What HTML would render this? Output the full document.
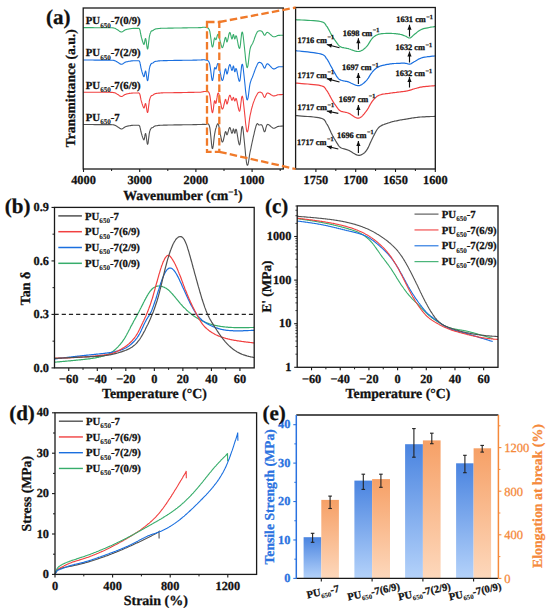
<!DOCTYPE html><html><head><meta charset="utf-8"><style>html,body{margin:0;padding:0;background:#fff;width:550px;height:614px;overflow:hidden}svg{display:block}text{stroke-width:0.28px}</style></head><body>
<svg width="550" height="614" viewBox="0 0 550 614" font-family='"Liberation Serif", serif' text-rendering="geometricPrecision">
<rect width="550" height="614" fill="#fff"/>
<path d="M83.2,27.6 L84.2,27.6 L85.5,27.6 L87.1,27.6 L88.9,27.6 L90.8,27.6 L92.7,27.6 L94.7,27.7 L96.6,27.7 L98.4,27.7 L100.0,27.7 L101.5,27.7 L103.0,27.7 L104.4,27.7 L105.9,27.7 L107.3,27.7 L108.6,27.7 L109.8,27.7 L111.0,27.7 L112.1,27.8 L113.0,27.9 L113.8,28.0 L114.5,28.2 L115.0,28.3 L115.4,28.5 L115.8,28.7 L116.1,28.9 L116.5,29.2 L116.8,29.4 L117.1,29.6 L117.5,29.8 L117.9,30.0 L118.3,30.3 L118.7,30.6 L119.1,30.9 L119.5,31.2 L119.9,31.4 L120.3,31.7 L120.7,31.8 L121.1,32.0 L121.5,32.0 L121.9,32.0 L122.3,31.8 L122.7,31.6 L123.0,31.4 L123.4,31.1 L123.8,30.8 L124.2,30.5 L124.6,30.2 L125.0,30.0 L125.5,29.8 L126.0,29.6 L126.5,29.5 L127.0,29.3 L127.6,29.2 L128.1,29.1 L128.7,29.0 L129.3,28.9 L129.8,28.8 L130.4,28.7 L131.0,28.6 L131.6,28.5 L132.2,28.5 L132.9,28.4 L133.5,28.4 L134.2,28.4 L134.8,28.4 L135.4,28.4 L136.0,28.4 L136.5,28.4 L137.0,28.4 L137.4,28.4 L137.8,28.4 L138.1,28.4 L138.3,28.3 L138.6,28.3 L138.8,28.3 L139.0,28.4 L139.2,28.6 L139.4,28.8 L139.6,29.2 L139.8,29.7 L140.0,30.3 L140.1,31.0 L140.3,31.8 L140.4,32.6 L140.6,33.5 L140.8,34.3 L140.9,35.2 L141.1,36.0 L141.3,36.8 L141.5,37.7 L141.8,38.6 L142.0,39.5 L142.3,40.5 L142.6,41.5 L142.9,42.3 L143.2,43.1 L143.4,43.8 L143.7,44.2 L143.9,44.4 L144.1,44.3 L144.3,43.8 L144.5,43.1 L144.6,42.2 L144.8,41.3 L144.9,40.3 L145.1,39.5 L145.3,38.8 L145.4,38.5 L145.6,38.5 L145.8,39.0 L146.0,39.9 L146.2,41.2 L146.4,42.6 L146.6,44.2 L146.8,45.7 L147.0,47.0 L147.2,48.1 L147.4,48.8 L147.6,49.0 L147.8,48.7 L148.0,47.9 L148.2,46.7 L148.3,45.3 L148.5,43.8 L148.7,42.1 L148.9,40.5 L149.1,39.0 L149.2,37.6 L149.4,36.6 L149.6,35.8 L149.7,35.1 L149.9,34.4 L150.0,33.9 L150.2,33.4 L150.4,33.0 L150.5,32.6 L150.7,32.2 L150.8,31.9 L151.0,31.6 L151.2,31.3 L151.3,31.2 L151.5,31.0 L151.6,30.9 L151.8,30.9 L152.0,30.9 L152.2,30.8 L152.3,30.8 L152.6,30.7 L152.8,30.6 L153.0,30.5 L153.3,30.3 L153.5,30.1 L153.7,29.9 L154.0,29.7 L154.2,29.5 L154.6,29.4 L155.0,29.2 L155.4,29.0 L156.0,28.9 L156.6,28.8 L157.3,28.7 L157.9,28.6 L158.7,28.5 L159.4,28.5 L160.3,28.4 L161.3,28.3 L162.4,28.3 L163.6,28.2 L165.0,28.2 L166.6,28.2 L168.4,28.1 L170.3,28.1 L172.4,28.1 L174.6,28.0 L176.8,28.0 L179.0,28.0 L181.1,28.0 L183.2,27.9 L185.0,27.9 L186.7,27.9 L188.5,27.8 L190.2,27.8 L191.8,27.8 L193.4,27.8 L195.0,27.7 L196.4,27.7 L197.7,27.7 L198.9,27.6 L200.0,27.6 L200.9,27.6 L201.6,27.5 L202.3,27.4 L202.7,27.3 L203.2,27.3 L203.5,27.2 L203.9,27.2 L204.2,27.2 L204.6,27.2 L205.0,27.3 L205.5,27.4 L205.9,27.5 L206.4,27.5 L206.9,27.6 L207.3,27.7 L207.8,27.9 L208.2,28.2 L208.6,28.7 L209.0,29.3 L209.4,30.2 L209.8,31.4 L210.1,33.1 L210.4,35.0 L210.7,37.1 L211.0,39.3 L211.3,41.4 L211.5,43.3 L211.8,45.0 L212.0,46.2 L212.3,46.9 L212.6,47.0 L212.8,46.6 L213.0,45.8 L213.3,44.8 L213.5,43.5 L213.7,42.2 L213.9,40.9 L214.1,39.7 L214.3,38.8 L214.5,38.2 L214.7,38.0 L214.8,37.9 L215.0,38.1 L215.1,38.3 L215.2,38.7 L215.4,39.0 L215.5,39.3 L215.7,39.6 L215.8,39.7 L216.0,39.6 L216.2,39.3 L216.4,38.7 L216.6,38.0 L216.8,37.2 L217.1,36.3 L217.3,35.5 L217.5,34.9 L217.8,34.5 L218.1,34.3 L218.4,34.5 L218.7,35.2 L219.1,36.3 L219.5,37.8 L219.8,39.5 L220.2,41.4 L220.7,43.2 L221.1,44.8 L221.5,46.2 L221.8,47.1 L222.2,47.6 L222.6,47.5 L222.9,46.8 L223.3,45.8 L223.6,44.5 L223.9,43.1 L224.3,41.6 L224.6,40.2 L224.9,39.0 L225.1,38.0 L225.4,37.5 L225.6,37.4 L225.8,37.7 L226.0,38.2 L226.1,38.8 L226.3,39.6 L226.4,40.4 L226.6,41.1 L226.7,41.6 L226.9,41.9 L227.1,41.8 L227.3,41.3 L227.6,40.5 L227.8,39.5 L228.1,38.3 L228.4,37.0 L228.6,35.7 L228.9,34.5 L229.2,33.5 L229.5,32.8 L229.7,32.4 L229.9,32.5 L230.2,32.9 L230.4,33.5 L230.6,34.4 L230.9,35.3 L231.1,36.3 L231.3,37.3 L231.5,38.0 L231.7,38.6 L231.9,38.9 L232.1,38.9 L232.2,38.6 L232.4,38.1 L232.6,37.5 L232.7,36.8 L232.8,36.1 L233.0,35.5 L233.1,35.0 L233.3,34.6 L233.4,34.5 L233.5,34.6 L233.7,34.9 L233.8,35.4 L234.0,36.0 L234.1,36.6 L234.2,37.2 L234.4,37.8 L234.5,38.3 L234.7,38.7 L234.8,38.9 L234.9,38.8 L235.1,38.5 L235.2,38.1 L235.3,37.5 L235.4,37.0 L235.6,36.4 L235.7,36.0 L235.9,35.7 L236.1,35.7 L236.3,36.0 L236.6,36.7 L236.9,38.0 L237.2,39.5 L237.5,41.2 L237.9,43.0 L238.2,44.8 L238.6,46.3 L238.9,47.5 L239.3,48.2 L239.6,48.4 L239.9,47.7 L240.2,46.2 L240.5,44.1 L240.7,41.6 L241.0,39.0 L241.3,36.5 L241.5,34.4 L241.8,32.8 L242.2,32.1 L242.5,32.4 L242.9,34.1 L243.3,37.0 L243.7,40.8 L244.2,45.2 L244.7,50.0 L245.2,54.7 L245.6,59.1 L246.1,62.9 L246.5,65.7 L246.9,67.3 L247.3,67.6 L247.6,66.9 L248.0,65.3 L248.3,63.2 L248.6,60.7 L248.9,58.0 L249.2,55.3 L249.5,52.8 L249.8,50.6 L250.1,49.0 L250.4,47.9 L250.7,47.0 L251.0,46.3 L251.2,45.7 L251.5,45.2 L251.8,44.7 L252.1,44.3 L252.4,43.8 L252.7,43.2 L253.0,42.5 L253.3,41.6 L253.7,40.7 L254.1,39.7 L254.4,38.6 L254.8,37.5 L255.2,36.5 L255.6,35.5 L255.9,34.6 L256.3,33.8 L256.6,33.1 L256.9,32.6 L257.1,32.2 L257.4,31.8 L257.6,31.6 L257.8,31.4 L258.1,31.2 L258.3,31.1 L258.5,31.0 L258.7,31.0 L259.0,30.9 L259.3,30.8 L259.6,30.8 L259.9,30.8 L260.2,30.8 L260.5,30.8 L260.8,30.9 L261.1,31.0 L261.4,31.1 L261.7,31.3 L262.0,31.5 L262.3,31.8 L262.5,32.2 L262.8,32.6 L263.1,33.1 L263.3,33.6 L263.6,34.1 L263.8,34.6 L264.1,34.9 L264.3,35.2 L264.6,35.3 L264.9,35.2 L265.1,35.0 L265.4,34.7 L265.6,34.3 L265.8,33.8 L266.1,33.4 L266.4,33.0 L266.7,32.6 L267.1,32.4 L267.5,32.4 L268.0,32.6 L268.5,32.9 L269.1,33.3 L269.7,33.9 L270.3,34.4 L271.0,35.0 L271.6,35.6 L272.3,36.1 L272.8,36.5 L273.4,36.7 L273.9,36.8 L274.4,36.8 L274.9,36.7 L275.3,36.6 L275.7,36.4 L276.2,36.2 L276.6,36.0 L277.1,35.8 L277.5,35.6 L278.0,35.5 L278.5,35.4 L279.1,35.4 L279.7,35.4 L280.3,35.3 L280.9,35.3 L281.5,35.3 L282.1,35.3 L282.6,35.3 L283.0,35.3 L283.3,35.3" fill="none" stroke="#37AD6B" stroke-width="1.1" stroke-linejoin="round"/>
<path d="M83.2,60.0 L84.2,60.0 L85.5,60.0 L87.1,60.0 L88.9,60.0 L90.8,60.0 L92.7,60.0 L94.7,60.1 L96.6,60.1 L98.4,60.1 L100.0,60.1 L101.5,60.1 L103.0,60.1 L104.4,60.1 L105.9,60.1 L107.3,60.1 L108.6,60.1 L109.8,60.1 L111.0,60.2 L112.1,60.2 L113.0,60.3 L113.8,60.4 L114.5,60.6 L115.0,60.7 L115.4,60.9 L115.8,61.1 L116.1,61.3 L116.5,61.5 L116.8,61.7 L117.1,61.9 L117.5,62.1 L117.9,62.4 L118.3,62.6 L118.7,62.9 L119.1,63.2 L119.5,63.5 L119.9,63.7 L120.3,64.0 L120.7,64.1 L121.1,64.3 L121.5,64.3 L121.9,64.3 L122.3,64.1 L122.7,63.9 L123.0,63.7 L123.4,63.4 L123.8,63.1 L124.2,62.9 L124.6,62.6 L125.0,62.3 L125.5,62.1 L126.0,62.0 L126.5,61.8 L127.0,61.7 L127.6,61.6 L128.1,61.5 L128.7,61.3 L129.3,61.2 L129.8,61.2 L130.4,61.1 L131.0,61.0 L131.6,60.9 L132.2,60.9 L132.9,60.8 L133.5,60.8 L134.2,60.8 L134.8,60.8 L135.4,60.8 L136.0,60.8 L136.5,60.8 L137.0,60.8 L137.4,60.8 L137.8,60.8 L138.1,60.8 L138.3,60.7 L138.6,60.7 L138.8,60.7 L139.0,60.8 L139.2,61.0 L139.4,61.2 L139.6,61.6 L139.8,62.1 L140.0,62.7 L140.1,63.4 L140.3,64.1 L140.4,65.0 L140.6,65.8 L140.8,66.7 L140.9,67.6 L141.1,68.4 L141.3,69.2 L141.5,70.0 L141.8,70.9 L142.0,71.9 L142.3,72.8 L142.6,73.8 L142.9,74.6 L143.2,75.4 L143.4,76.0 L143.7,76.5 L143.9,76.7 L144.1,76.6 L144.3,76.2 L144.5,75.5 L144.6,74.6 L144.8,73.7 L144.9,72.8 L145.1,72.0 L145.3,71.4 L145.4,71.0 L145.6,71.0 L145.8,71.4 L146.0,72.3 L146.2,73.5 L146.4,74.8 L146.6,76.2 L146.8,77.6 L147.0,78.9 L147.2,79.9 L147.4,80.5 L147.6,80.7 L147.8,80.3 L148.0,79.6 L148.2,78.5 L148.3,77.1 L148.5,75.6 L148.7,74.0 L148.9,72.4 L149.1,71.0 L149.2,69.7 L149.4,68.7 L149.6,67.9 L149.7,67.2 L149.9,66.6 L150.0,66.1 L150.2,65.7 L150.4,65.3 L150.5,64.9 L150.7,64.6 L150.8,64.3 L151.0,64.0 L151.2,63.8 L151.3,63.6 L151.5,63.5 L151.6,63.4 L151.8,63.3 L152.0,63.3 L152.2,63.2 L152.3,63.2 L152.6,63.1 L152.8,63.0 L153.0,62.9 L153.3,62.7 L153.5,62.5 L153.7,62.3 L154.0,62.1 L154.2,61.9 L154.6,61.8 L155.0,61.6 L155.4,61.4 L156.0,61.3 L156.6,61.2 L157.3,61.1 L157.9,61.0 L158.7,60.9 L159.4,60.9 L160.3,60.8 L161.3,60.7 L162.4,60.7 L163.6,60.6 L165.0,60.6 L166.6,60.6 L168.4,60.5 L170.3,60.5 L172.4,60.5 L174.6,60.4 L176.8,60.4 L179.0,60.4 L181.1,60.4 L183.2,60.3 L185.0,60.3 L186.7,60.3 L188.5,60.2 L190.2,60.2 L191.8,60.2 L193.4,60.1 L195.0,60.1 L196.4,60.1 L197.7,60.0 L198.9,60.0 L200.0,60.0 L200.9,60.0 L201.6,59.9 L202.3,59.9 L202.7,59.8 L203.2,59.7 L203.5,59.7 L203.9,59.7 L204.2,59.7 L204.6,59.8 L205.0,59.9 L205.5,60.0 L205.9,60.1 L206.4,60.1 L206.9,60.2 L207.3,60.3 L207.8,60.6 L208.2,60.9 L208.6,61.4 L209.0,62.1 L209.4,63.0 L209.8,64.3 L210.1,66.1 L210.4,68.1 L210.7,70.4 L211.0,72.7 L211.3,75.0 L211.5,77.0 L211.8,78.7 L212.0,79.9 L212.3,80.5 L212.6,80.4 L212.8,79.7 L213.0,78.6 L213.3,77.1 L213.5,75.4 L213.7,73.6 L213.9,71.9 L214.1,70.3 L214.3,69.0 L214.5,68.2 L214.7,67.8 L214.8,67.6 L215.0,67.6 L215.1,67.8 L215.2,68.1 L215.4,68.4 L215.5,68.7 L215.7,68.9 L215.8,69.0 L216.0,68.9 L216.2,68.5 L216.4,67.9 L216.6,67.1 L216.8,66.2 L217.1,65.4 L217.3,64.5 L217.5,63.9 L217.8,63.5 L218.1,63.5 L218.4,63.8 L218.7,64.7 L219.1,66.2 L219.5,68.1 L219.8,70.3 L220.2,72.6 L220.7,74.8 L221.1,76.9 L221.5,78.6 L221.8,79.9 L222.2,80.5 L222.6,80.4 L222.9,79.7 L223.3,78.6 L223.6,77.1 L223.9,75.4 L224.3,73.7 L224.6,72.0 L224.9,70.6 L225.1,69.5 L225.4,68.9 L225.6,68.8 L225.8,69.1 L226.0,69.7 L226.1,70.4 L226.3,71.3 L226.4,72.2 L226.6,73.0 L226.7,73.6 L226.9,74.0 L227.1,74.0 L227.3,73.6 L227.6,72.8 L227.8,71.7 L228.1,70.5 L228.4,69.2 L228.6,67.9 L228.9,66.7 L229.2,65.6 L229.5,64.9 L229.7,64.5 L229.9,64.5 L230.2,64.9 L230.4,65.5 L230.6,66.2 L230.9,67.1 L231.1,68.0 L231.3,68.9 L231.5,69.6 L231.7,70.2 L231.9,70.4 L232.1,70.3 L232.2,70.0 L232.4,69.5 L232.6,68.9 L232.7,68.2 L232.8,67.5 L233.0,66.9 L233.1,66.4 L233.3,66.1 L233.4,66.0 L233.5,66.2 L233.7,66.6 L233.8,67.3 L234.0,68.0 L234.1,68.8 L234.2,69.6 L234.4,70.4 L234.5,71.0 L234.7,71.5 L234.8,71.8 L234.9,71.8 L235.1,71.5 L235.2,71.1 L235.3,70.5 L235.4,69.9 L235.6,69.4 L235.7,68.9 L235.9,68.6 L236.1,68.6 L236.3,68.9 L236.6,69.7 L236.9,70.9 L237.2,72.4 L237.5,74.2 L237.9,76.0 L238.2,77.7 L238.6,79.2 L238.9,80.4 L239.3,81.2 L239.6,81.3 L239.9,80.6 L240.2,79.0 L240.5,76.8 L240.7,74.2 L241.0,71.5 L241.3,68.9 L241.5,66.7 L241.8,65.0 L242.2,64.2 L242.5,64.5 L242.9,66.1 L243.3,69.0 L243.7,72.8 L244.2,77.2 L244.7,82.0 L245.2,86.7 L245.6,91.1 L246.1,94.9 L246.5,97.8 L246.9,99.5 L247.3,99.9 L247.6,99.4 L248.0,98.2 L248.3,96.4 L248.6,94.2 L248.9,91.8 L249.2,89.3 L249.5,87.0 L249.8,85.0 L250.1,83.5 L250.4,82.4 L250.7,81.4 L251.0,80.6 L251.2,79.8 L251.5,79.1 L251.8,78.4 L252.1,77.8 L252.4,77.1 L252.7,76.3 L253.0,75.5 L253.3,74.6 L253.7,73.6 L254.1,72.6 L254.4,71.5 L254.8,70.5 L255.2,69.4 L255.6,68.5 L255.9,67.5 L256.3,66.7 L256.6,66.0 L256.9,65.4 L257.1,64.8 L257.4,64.3 L257.6,63.9 L257.8,63.5 L258.1,63.2 L258.3,62.9 L258.5,62.7 L258.7,62.5 L259.0,62.4 L259.3,62.3 L259.6,62.3 L259.9,62.4 L260.2,62.5 L260.5,62.6 L260.8,62.8 L261.1,63.0 L261.4,63.2 L261.7,63.5 L262.0,63.8 L262.3,64.2 L262.5,64.6 L262.8,65.2 L263.1,65.8 L263.3,66.4 L263.6,66.9 L263.8,67.4 L264.1,67.8 L264.3,68.1 L264.6,68.2 L264.9,68.1 L265.1,67.7 L265.4,67.2 L265.6,66.6 L265.8,66.0 L266.1,65.3 L266.4,64.7 L266.7,64.2 L267.1,63.9 L267.5,63.8 L268.0,64.0 L268.5,64.3 L269.1,64.9 L269.7,65.5 L270.3,66.2 L271.0,66.9 L271.6,67.6 L272.3,68.2 L272.8,68.6 L273.4,68.9 L273.9,69.0 L274.4,68.9 L274.9,68.8 L275.3,68.6 L275.7,68.3 L276.2,68.0 L276.6,67.7 L277.1,67.4 L277.5,67.2 L278.0,67.0 L278.5,66.9 L279.1,66.8 L279.7,66.8 L280.3,66.8 L280.9,66.7 L281.5,66.7 L282.1,66.7 L282.6,66.7 L283.0,66.7 L283.3,66.7" fill="none" stroke="#1A6FDF" stroke-width="1.1" stroke-linejoin="round"/>
<path d="M83.2,92.2 L84.2,92.2 L85.5,92.2 L87.1,92.2 L88.9,92.2 L90.8,92.2 L92.7,92.2 L94.7,92.3 L96.6,92.3 L98.4,92.3 L100.0,92.3 L101.5,92.3 L103.0,92.3 L104.4,92.3 L105.9,92.3 L107.3,92.3 L108.6,92.3 L109.8,92.3 L111.0,92.4 L112.1,92.4 L113.0,92.5 L113.8,92.6 L114.5,92.8 L115.0,92.9 L115.4,93.1 L115.8,93.3 L116.1,93.5 L116.5,93.7 L116.8,93.9 L117.1,94.1 L117.5,94.4 L117.9,94.6 L118.3,94.8 L118.7,95.1 L119.1,95.4 L119.5,95.7 L119.9,95.9 L120.3,96.2 L120.7,96.3 L121.1,96.5 L121.5,96.5 L121.9,96.5 L122.3,96.3 L122.7,96.1 L123.0,95.9 L123.4,95.6 L123.8,95.3 L124.2,95.1 L124.6,94.8 L125.0,94.5 L125.5,94.4 L126.0,94.2 L126.5,94.0 L127.0,93.9 L127.6,93.8 L128.1,93.7 L128.7,93.5 L129.3,93.4 L129.8,93.4 L130.4,93.3 L131.0,93.2 L131.6,93.1 L132.2,93.1 L132.9,93.0 L133.5,93.0 L134.2,93.0 L134.8,93.0 L135.4,93.0 L136.0,93.0 L136.5,93.0 L137.0,93.0 L137.4,93.0 L137.8,93.0 L138.1,93.0 L138.3,92.9 L138.6,92.9 L138.8,93.0 L139.0,93.1 L139.2,93.2 L139.4,93.5 L139.6,93.8 L139.8,94.3 L140.0,94.8 L140.1,95.5 L140.3,96.2 L140.4,97.0 L140.6,97.8 L140.8,98.6 L140.9,99.4 L141.1,100.2 L141.3,100.9 L141.5,101.7 L141.8,102.5 L142.0,103.4 L142.3,104.3 L142.6,105.2 L142.9,106.0 L143.2,106.7 L143.4,107.3 L143.7,107.8 L143.9,108.0 L144.1,108.0 L144.3,107.6 L144.5,107.1 L144.6,106.4 L144.8,105.6 L144.9,104.9 L145.1,104.2 L145.3,103.7 L145.4,103.5 L145.6,103.5 L145.8,103.9 L146.0,104.8 L146.2,105.9 L146.4,107.1 L146.6,108.5 L146.8,109.7 L147.0,110.9 L147.2,111.8 L147.4,112.4 L147.6,112.5 L147.8,112.1 L148.0,111.4 L148.2,110.3 L148.3,108.9 L148.5,107.5 L148.7,105.9 L148.9,104.4 L149.1,102.9 L149.2,101.7 L149.4,100.7 L149.6,100.0 L149.7,99.3 L149.9,98.7 L150.0,98.2 L150.2,97.8 L150.4,97.4 L150.5,97.1 L150.7,96.8 L150.8,96.5 L151.0,96.2 L151.2,96.0 L151.3,95.8 L151.5,95.7 L151.6,95.6 L151.8,95.5 L152.0,95.5 L152.2,95.4 L152.3,95.4 L152.6,95.3 L152.8,95.2 L153.0,95.1 L153.3,94.9 L153.5,94.7 L153.7,94.5 L154.0,94.3 L154.2,94.1 L154.6,94.0 L155.0,93.8 L155.4,93.6 L156.0,93.5 L156.6,93.4 L157.3,93.3 L157.9,93.2 L158.7,93.1 L159.4,93.1 L160.3,93.0 L161.3,92.9 L162.4,92.9 L163.6,92.8 L165.0,92.8 L166.6,92.8 L168.4,92.7 L170.3,92.7 L172.4,92.7 L174.6,92.6 L176.8,92.6 L179.0,92.6 L181.1,92.6 L183.2,92.5 L185.0,92.5 L186.7,92.5 L188.5,92.4 L190.2,92.4 L191.8,92.4 L193.4,92.4 L195.0,92.3 L196.4,92.3 L197.7,92.3 L198.9,92.2 L200.0,92.2 L200.9,92.1 L201.6,92.0 L202.3,91.9 L202.7,91.8 L203.2,91.7 L203.5,91.6 L203.9,91.5 L204.2,91.5 L204.6,91.5 L205.0,91.5 L205.5,91.5 L205.9,91.5 L206.4,91.4 L206.9,91.4 L207.3,91.4 L207.8,91.5 L208.2,91.7 L208.6,92.1 L209.0,92.8 L209.4,93.7 L209.8,95.1 L210.1,96.9 L210.4,99.1 L210.7,101.5 L211.0,104.0 L211.3,106.4 L211.5,108.6 L211.8,110.5 L212.0,111.9 L212.3,112.6 L212.6,112.6 L212.8,112.0 L213.0,110.9 L213.3,109.5 L213.5,107.8 L213.7,106.1 L213.9,104.4 L214.1,102.9 L214.3,101.7 L214.5,101.0 L214.7,100.7 L214.8,100.8 L215.0,101.0 L215.1,101.5 L215.2,102.0 L215.4,102.6 L215.5,103.0 L215.7,103.3 L215.8,103.4 L216.0,103.2 L216.2,102.6 L216.4,101.5 L216.6,100.2 L216.8,98.8 L217.1,97.2 L217.3,95.8 L217.5,94.5 L217.8,93.6 L218.1,93.0 L218.4,93.0 L218.7,93.7 L219.1,94.9 L219.5,96.7 L219.8,98.7 L220.2,101.0 L220.7,103.2 L221.1,105.2 L221.5,107.0 L221.8,108.3 L222.2,109.0 L222.6,109.0 L222.9,108.5 L223.3,107.6 L223.6,106.4 L223.9,105.0 L224.3,103.5 L224.6,102.1 L224.9,100.9 L225.1,100.0 L225.4,99.5 L225.6,99.4 L225.8,99.7 L226.0,100.2 L226.1,100.9 L226.3,101.6 L226.4,102.4 L226.6,103.1 L226.7,103.6 L226.9,103.9 L227.1,103.9 L227.3,103.5 L227.6,102.8 L227.8,101.8 L228.1,100.7 L228.4,99.5 L228.6,98.3 L228.9,97.2 L229.2,96.3 L229.5,95.6 L229.7,95.2 L229.9,95.2 L230.2,95.5 L230.4,96.0 L230.6,96.6 L230.9,97.4 L231.1,98.2 L231.3,98.9 L231.5,99.6 L231.7,100.1 L231.9,100.3 L232.1,100.3 L232.2,100.1 L232.4,99.8 L232.6,99.4 L232.7,98.9 L232.8,98.5 L233.0,98.0 L233.1,97.7 L233.3,97.5 L233.4,97.4 L233.5,97.5 L233.7,97.8 L233.8,98.2 L234.0,98.7 L234.1,99.2 L234.2,99.7 L234.4,100.1 L234.5,100.5 L234.7,100.8 L234.8,101.0 L234.9,100.9 L235.1,100.7 L235.2,100.3 L235.3,99.8 L235.4,99.3 L235.6,98.9 L235.7,98.6 L235.9,98.4 L236.1,98.5 L236.3,98.8 L236.6,99.6 L236.9,100.8 L237.2,102.3 L237.5,104.0 L237.9,105.8 L238.2,107.5 L238.6,109.0 L238.9,110.2 L239.3,111.0 L239.6,111.2 L239.9,110.6 L240.2,109.2 L240.5,107.2 L240.7,104.9 L241.0,102.5 L241.3,100.2 L241.5,98.2 L241.8,96.8 L242.2,96.2 L242.5,96.6 L242.9,98.3 L243.3,101.2 L243.7,105.0 L244.2,109.4 L244.7,114.1 L245.2,118.8 L245.6,123.2 L246.1,127.0 L246.5,129.8 L246.9,131.5 L247.3,131.9 L247.6,131.5 L248.0,130.3 L248.3,128.6 L248.6,126.4 L248.9,124.0 L249.2,121.6 L249.5,119.2 L249.8,117.2 L250.1,115.5 L250.4,114.1 L250.7,112.9 L251.0,111.6 L251.2,110.4 L251.5,109.2 L251.8,108.1 L252.1,107.0 L252.4,106.0 L252.7,104.9 L253.0,103.9 L253.3,102.9 L253.7,101.9 L254.1,100.9 L254.4,99.9 L254.8,99.0 L255.2,98.1 L255.6,97.3 L255.9,96.5 L256.3,95.8 L256.6,95.2 L256.9,94.7 L257.1,94.2 L257.4,93.8 L257.6,93.4 L257.8,93.2 L258.1,92.9 L258.3,92.7 L258.5,92.6 L258.7,92.4 L259.0,92.3 L259.3,92.2 L259.6,92.2 L259.9,92.1 L260.2,92.1 L260.5,92.2 L260.8,92.3 L261.1,92.4 L261.4,92.6 L261.7,92.8 L262.0,93.0 L262.3,93.3 L262.5,93.8 L262.8,94.3 L263.1,94.9 L263.3,95.5 L263.6,96.1 L263.8,96.6 L264.1,97.0 L264.3,97.3 L264.6,97.4 L264.9,97.3 L265.1,97.0 L265.4,96.5 L265.6,95.9 L265.8,95.3 L266.1,94.7 L266.4,94.1 L266.7,93.6 L267.1,93.2 L267.5,93.0 L268.0,93.0 L268.5,93.2 L269.1,93.5 L269.7,93.8 L270.3,94.2 L271.0,94.7 L271.6,95.1 L272.3,95.5 L272.8,95.7 L273.4,95.9 L273.9,95.9 L274.4,95.9 L274.9,95.8 L275.3,95.7 L275.7,95.6 L276.2,95.4 L276.6,95.2 L277.1,95.0 L277.5,94.9 L278.0,94.8 L278.5,94.7 L279.1,94.7 L279.7,94.6 L280.3,94.6 L280.9,94.6 L281.5,94.6 L282.1,94.5 L282.6,94.5 L283.0,94.5 L283.3,94.5" fill="none" stroke="#F14040" stroke-width="1.1" stroke-linejoin="round"/>
<path d="M83.2,124.5 L84.2,124.5 L85.5,124.5 L87.1,124.5 L88.9,124.5 L90.8,124.5 L92.7,124.5 L94.7,124.6 L96.6,124.6 L98.4,124.6 L100.0,124.6 L101.5,124.6 L103.0,124.6 L104.4,124.6 L105.9,124.6 L107.3,124.6 L108.6,124.6 L109.8,124.6 L111.0,124.6 L112.1,124.7 L113.0,124.8 L113.8,124.9 L114.5,125.1 L115.0,125.2 L115.4,125.4 L115.8,125.6 L116.1,125.9 L116.5,126.1 L116.8,126.3 L117.1,126.5 L117.5,126.8 L117.9,127.0 L118.3,127.3 L118.7,127.5 L119.1,127.8 L119.5,128.1 L119.9,128.4 L120.3,128.6 L120.7,128.8 L121.1,129.0 L121.5,129.0 L121.9,129.0 L122.3,128.8 L122.7,128.6 L123.0,128.4 L123.4,128.1 L123.8,127.8 L124.2,127.5 L124.6,127.2 L125.0,127.0 L125.5,126.8 L126.0,126.6 L126.5,126.4 L127.0,126.3 L127.6,126.1 L128.1,126.0 L128.7,125.9 L129.3,125.8 L129.8,125.7 L130.4,125.6 L131.0,125.5 L131.6,125.4 L132.2,125.4 L132.9,125.3 L133.5,125.3 L134.2,125.3 L134.8,125.3 L135.4,125.3 L136.0,125.3 L136.5,125.3 L137.0,125.3 L137.4,125.3 L137.8,125.3 L138.1,125.3 L138.3,125.3 L138.6,125.3 L138.8,125.3 L139.0,125.4 L139.2,125.5 L139.4,125.8 L139.6,126.1 L139.8,126.5 L140.0,127.1 L140.1,127.7 L140.3,128.4 L140.4,129.1 L140.6,129.9 L140.8,130.7 L140.9,131.5 L141.1,132.2 L141.3,132.9 L141.5,133.7 L141.8,134.5 L142.0,135.4 L142.3,136.3 L142.6,137.2 L142.9,138.0 L143.2,138.7 L143.4,139.3 L143.7,139.6 L143.9,139.8 L144.1,139.6 L144.3,139.1 L144.5,138.3 L144.6,137.4 L144.8,136.4 L144.9,135.4 L145.1,134.5 L145.3,133.9 L145.4,133.5 L145.6,133.5 L145.8,134.0 L146.0,134.9 L146.2,136.2 L146.4,137.7 L146.6,139.2 L146.8,140.8 L147.0,142.2 L147.2,143.3 L147.4,144.0 L147.6,144.3 L147.8,144.0 L148.0,143.3 L148.2,142.3 L148.3,141.0 L148.5,139.5 L148.7,138.0 L148.9,136.4 L149.1,135.0 L149.2,133.8 L149.4,132.8 L149.6,132.1 L149.7,131.4 L149.9,130.9 L150.0,130.4 L150.2,130.0 L150.4,129.6 L150.5,129.3 L150.7,129.0 L150.8,128.8 L151.0,128.5 L151.2,128.3 L151.3,128.1 L151.5,128.0 L151.6,127.9 L151.8,127.8 L152.0,127.8 L152.2,127.7 L152.3,127.7 L152.6,127.6 L152.8,127.5 L153.0,127.4 L153.3,127.2 L153.5,127.0 L153.7,126.8 L154.0,126.6 L154.2,126.4 L154.6,126.3 L155.0,126.1 L155.4,125.9 L156.0,125.8 L156.6,125.7 L157.3,125.6 L157.9,125.5 L158.7,125.4 L159.4,125.4 L160.3,125.3 L161.3,125.2 L162.4,125.2 L163.6,125.1 L165.0,125.1 L166.6,125.1 L168.4,125.0 L170.3,125.0 L172.4,125.0 L174.6,124.9 L176.8,124.9 L179.0,124.9 L181.1,124.9 L183.2,124.8 L185.0,124.8 L186.7,124.8 L188.5,124.7 L190.2,124.7 L191.8,124.7 L193.4,124.6 L195.0,124.6 L196.4,124.6 L197.7,124.5 L198.9,124.5 L200.0,124.5 L200.9,124.5 L201.6,124.5 L202.3,124.4 L202.7,124.4 L203.2,124.4 L203.5,124.4 L203.9,124.4 L204.2,124.4 L204.6,124.4 L205.0,124.5 L205.5,124.5 L205.9,124.4 L206.4,124.2 L206.9,124.0 L207.3,123.8 L207.8,123.8 L208.2,124.0 L208.6,124.3 L209.0,125.0 L209.4,126.0 L209.8,127.6 L210.1,129.7 L210.4,132.3 L210.7,135.2 L211.0,138.2 L211.3,141.1 L211.5,143.7 L211.8,146.0 L212.0,147.6 L212.3,148.5 L212.6,148.6 L212.8,148.0 L213.0,146.9 L213.3,145.4 L213.5,143.6 L213.7,141.7 L213.9,139.7 L214.1,137.9 L214.3,136.2 L214.5,135.0 L214.7,134.0 L214.8,133.1 L215.0,132.3 L215.1,131.6 L215.2,130.9 L215.4,130.2 L215.5,129.6 L215.7,129.1 L215.8,128.5 L216.0,128.0 L216.2,127.4 L216.4,126.7 L216.6,126.0 L216.8,125.3 L217.1,124.7 L217.3,124.2 L217.5,123.9 L217.8,123.8 L218.1,124.0 L218.4,124.5 L218.7,125.5 L219.1,127.1 L219.5,129.1 L219.8,131.3 L220.2,133.7 L220.7,136.0 L221.1,138.1 L221.5,139.9 L221.8,141.3 L222.2,142.0 L222.6,142.0 L222.9,141.5 L223.3,140.6 L223.6,139.3 L223.9,137.8 L224.3,136.3 L224.6,134.8 L224.9,133.4 L225.1,132.4 L225.4,131.8 L225.6,131.6 L225.8,131.7 L226.0,132.0 L226.1,132.5 L226.3,133.1 L226.4,133.6 L226.6,134.2 L226.7,134.6 L226.9,134.8 L227.1,134.7 L227.3,134.3 L227.6,133.7 L227.8,132.9 L228.1,131.9 L228.4,130.9 L228.6,129.9 L228.9,129.0 L229.2,128.3 L229.5,127.7 L229.7,127.5 L229.9,127.6 L230.2,128.0 L230.4,128.6 L230.6,129.4 L230.9,130.2 L231.1,131.1 L231.3,131.9 L231.5,132.6 L231.7,133.1 L231.9,133.3 L232.1,133.2 L232.2,132.9 L232.4,132.5 L232.6,131.9 L232.7,131.2 L232.8,130.5 L233.0,129.9 L233.1,129.4 L233.3,129.0 L233.4,128.9 L233.5,129.0 L233.7,129.3 L233.8,129.8 L234.0,130.4 L234.1,131.1 L234.2,131.7 L234.4,132.3 L234.5,132.8 L234.7,133.1 L234.8,133.3 L234.9,133.2 L235.1,132.8 L235.2,132.2 L235.3,131.5 L235.4,130.8 L235.6,130.1 L235.7,129.6 L235.9,129.3 L236.1,129.2 L236.3,129.6 L236.6,130.5 L236.9,132.0 L237.2,133.8 L237.5,136.0 L237.9,138.2 L238.2,140.3 L238.6,142.2 L238.9,143.7 L239.3,144.6 L239.6,144.9 L239.9,144.2 L240.2,142.5 L240.5,140.1 L240.7,137.3 L241.0,134.4 L241.3,131.6 L241.5,129.1 L241.8,127.3 L242.2,126.4 L242.5,126.7 L242.9,128.4 L243.3,131.5 L243.7,135.5 L244.2,140.2 L244.7,145.2 L245.2,150.3 L245.6,155.1 L246.1,159.3 L246.5,162.5 L246.9,164.5 L247.3,165.3 L247.6,165.2 L248.0,164.5 L248.3,163.2 L248.6,161.5 L248.9,159.5 L249.2,157.4 L249.5,155.4 L249.8,153.5 L250.1,152.0 L250.4,150.7 L250.7,149.4 L251.0,148.0 L251.2,146.7 L251.5,145.3 L251.8,143.9 L252.1,142.5 L252.4,141.2 L252.7,139.8 L253.0,138.4 L253.3,137.0 L253.7,135.4 L254.1,133.8 L254.4,132.2 L254.8,130.6 L255.2,129.0 L255.6,127.6 L255.9,126.4 L256.3,125.3 L256.6,124.5 L256.9,124.0 L257.1,123.7 L257.4,123.6 L257.6,123.7 L257.8,123.9 L258.1,124.1 L258.3,124.4 L258.5,124.7 L258.7,124.9 L259.0,125.0 L259.3,125.0 L259.6,125.0 L259.9,124.9 L260.2,124.8 L260.5,124.8 L260.8,124.7 L261.1,124.8 L261.4,124.8 L261.7,125.0 L262.0,125.3 L262.3,125.8 L262.5,126.4 L262.8,127.2 L263.1,128.1 L263.3,129.0 L263.6,129.9 L263.8,130.7 L264.1,131.3 L264.3,131.7 L264.6,131.8 L264.9,131.6 L265.1,131.0 L265.4,130.3 L265.6,129.3 L265.8,128.3 L266.1,127.3 L266.4,126.3 L266.7,125.5 L267.1,124.8 L267.5,124.5 L268.0,124.4 L268.5,124.6 L269.1,125.0 L269.7,125.4 L270.3,126.0 L271.0,126.6 L271.6,127.1 L272.3,127.6 L272.8,128.0 L273.4,128.2 L273.9,128.2 L274.4,128.2 L274.9,128.0 L275.3,127.9 L275.7,127.6 L276.2,127.4 L276.6,127.1 L277.1,126.8 L277.5,126.6 L278.0,126.5 L278.5,126.4 L279.1,126.3 L279.7,126.2 L280.3,126.2 L280.9,126.1 L281.5,126.1 L282.1,126.1 L282.6,126.0 L283.0,126.0 L283.3,126.0" fill="none" stroke="#515151" stroke-width="1.1" stroke-linejoin="round"/>
<rect x="83.2" y="8.0" width="200.10000000000002" height="161.0" fill="none" stroke="#1a1a1a" stroke-width="1.3"/>
<line x1="83.50" y1="169.00" x2="83.50" y2="172.00" stroke="#1a1a1a" stroke-width="1.1" />
<text x="83.49999999999999" y="183.6" font-size="12.3" text-anchor="middle" fill="#111" font-weight="bold"  stroke="#111">4000</text>
<line x1="139.70" y1="169.00" x2="139.70" y2="172.00" stroke="#1a1a1a" stroke-width="1.1" />
<text x="139.7" y="183.6" font-size="12.3" text-anchor="middle" fill="#111" font-weight="bold"  stroke="#111">3000</text>
<line x1="195.90" y1="169.00" x2="195.90" y2="172.00" stroke="#1a1a1a" stroke-width="1.1" />
<text x="195.89999999999998" y="183.6" font-size="12.3" text-anchor="middle" fill="#111" font-weight="bold"  stroke="#111">2000</text>
<line x1="252.10" y1="169.00" x2="252.10" y2="172.00" stroke="#1a1a1a" stroke-width="1.1" />
<text x="252.1" y="183.6" font-size="12.3" text-anchor="middle" fill="#111" font-weight="bold"  stroke="#111">1000</text>
<line x1="111.60" y1="169.00" x2="111.60" y2="171.00" stroke="#1a1a1a" stroke-width="1.0" />
<line x1="167.80" y1="169.00" x2="167.80" y2="171.00" stroke="#1a1a1a" stroke-width="1.0" />
<line x1="224.00" y1="169.00" x2="224.00" y2="171.00" stroke="#1a1a1a" stroke-width="1.0" />
<line x1="280.20" y1="169.00" x2="280.20" y2="171.00" stroke="#1a1a1a" stroke-width="1.0" />
<text x="182.9" y="199.5" font-size="13.8" text-anchor="middle" fill="#111" font-weight="bold"  stroke="#111">Wavenumber (cm<tspan font-size="9" dy="-5">&#8722;1</tspan><tspan dy="5">)</tspan></text>
<text x="0" y="0" font-size="13.6" font-weight="bold" fill="#111" stroke="#111" text-anchor="middle" transform="translate(74.8,88.3) rotate(-90)">Transmittance (a.u.)</text>
<text x="45.9" y="24.3" font-size="21" text-anchor="start" fill="#111" font-weight="bold"  stroke="#111">(a)</text>
<text x="85.8" y="24.3" font-size="10.75" text-anchor="start" fill="#111" font-weight="bold"  stroke="#111">PU<tspan font-size="7.1" dy="3.2" stroke-width="0.05">650</tspan><tspan dy="-3.2">-7(0/9)</tspan></text>
<text x="85.8" y="56.3" font-size="10.75" text-anchor="start" fill="#111" font-weight="bold"  stroke="#111">PU<tspan font-size="7.1" dy="3.2" stroke-width="0.05">650</tspan><tspan dy="-3.2">-7(2/9)</tspan></text>
<text x="85.8" y="88.6" font-size="10.75" text-anchor="start" fill="#111" font-weight="bold"  stroke="#111">PU<tspan font-size="7.1" dy="3.2" stroke-width="0.05">650</tspan><tspan dy="-3.2">-7(6/9)</tspan></text>
<text x="85.8" y="120.8" font-size="10.75" text-anchor="start" fill="#111" font-weight="bold"  stroke="#111">PU<tspan font-size="7.1" dy="3.2" stroke-width="0.05">650</tspan><tspan dy="-3.2">-7</tspan></text>
<path d="M295.6,19.7 L297.2,19.8 L299.3,19.9 L301.8,20.0 L304.7,20.1 L307.7,20.3 L310.7,20.5 L313.6,20.7 L316.3,20.9 L318.7,21.2 L320.5,21.5 L321.9,21.9 L323.0,22.2 L323.8,22.6 L324.4,23.1 L324.9,23.6 L325.3,24.1 L325.6,24.6 L325.9,25.2 L326.3,25.8 L326.8,26.5 L327.4,27.2 L327.9,28.1 L328.4,29.0 L328.9,29.9 L329.4,30.8 L329.9,31.8 L330.4,32.8 L330.9,33.7 L331.4,34.6 L331.9,35.5 L332.4,36.3 L332.9,37.2 L333.5,38.0 L334.0,38.8 L334.5,39.6 L335.1,40.4 L335.6,41.1 L336.1,41.8 L336.5,42.5 L337.0,43.1 L337.4,43.6 L337.8,44.1 L338.1,44.6 L338.4,45.0 L338.7,45.4 L339.1,45.7 L339.4,46.0 L339.8,46.3 L340.3,46.6 L340.8,46.9 L341.4,47.2 L342.0,47.4 L342.7,47.6 L343.4,47.7 L344.2,47.9 L345.0,48.0 L345.8,48.1 L346.7,48.3 L347.5,48.5 L348.4,48.7 L349.3,49.0 L350.3,49.3 L351.3,49.7 L352.4,50.1 L353.5,50.5 L354.6,50.9 L355.6,51.2 L356.7,51.4 L357.7,51.5 L358.6,51.5 L359.5,51.4 L360.3,51.1 L361.1,50.8 L361.9,50.4 L362.7,49.9 L363.4,49.4 L364.2,48.8 L364.9,48.2 L365.6,47.6 L366.3,46.9 L367.0,46.2 L367.6,45.3 L368.3,44.4 L368.9,43.4 L369.5,42.4 L370.1,41.4 L370.7,40.4 L371.4,39.5 L372.0,38.7 L372.6,38.0 L373.2,37.4 L373.8,36.9 L374.4,36.4 L375.0,36.0 L375.6,35.6 L376.2,35.3 L376.8,35.0 L377.5,34.7 L378.2,34.4 L379.0,34.2 L379.9,34.0 L380.8,33.8 L381.8,33.7 L382.8,33.6 L383.9,33.5 L384.9,33.5 L386.0,33.4 L387.1,33.4 L388.2,33.4 L389.2,33.4 L390.2,33.4 L391.3,33.4 L392.4,33.5 L393.5,33.5 L394.5,33.6 L395.6,33.7 L396.6,33.8 L397.6,33.9 L398.5,34.1 L399.4,34.2 L400.2,34.4 L400.9,34.5 L401.6,34.7 L402.3,34.9 L402.9,35.1 L403.5,35.4 L404.1,35.6 L404.6,35.8 L405.2,36.0 L405.7,36.2 L406.2,36.4 L406.7,36.7 L407.1,36.9 L407.5,37.2 L408.0,37.5 L408.4,37.7 L408.8,37.9 L409.2,38.0 L409.6,38.0 L410.0,38.0 L410.4,37.9 L410.9,37.6 L411.3,37.3 L411.7,36.9 L412.1,36.5 L412.5,36.1 L413.0,35.6 L413.5,35.1 L414.0,34.7 L414.6,34.2 L415.2,33.7 L415.9,33.2 L416.5,32.7 L417.2,32.1 L417.9,31.6 L418.7,31.0 L419.5,30.5 L420.4,30.0 L421.3,29.5 L422.3,29.1 L423.4,28.7 L424.8,28.4 L426.2,28.1 L427.7,27.8 L429.3,27.5 L430.8,27.2 L432.2,27.0 L433.4,26.8 L434.5,26.6 L435.3,26.5" fill="none" stroke="#37AD6B" stroke-width="1.2"/>
<path d="M295.6,50.6 L297.2,50.8 L299.3,51.0 L301.8,51.3 L304.7,51.6 L307.7,51.9 L310.7,52.3 L313.6,52.7 L316.3,53.1 L318.7,53.5 L320.5,53.9 L321.9,54.3 L323.0,54.7 L323.8,55.2 L324.4,55.6 L324.9,56.1 L325.3,56.6 L325.6,57.1 L325.9,57.7 L326.3,58.3 L326.8,59.0 L327.4,59.7 L327.9,60.5 L328.4,61.4 L328.9,62.3 L329.4,63.2 L329.9,64.2 L330.4,65.1 L330.9,66.1 L331.4,67.0 L331.9,67.9 L332.4,68.8 L332.9,69.8 L333.5,70.7 L334.0,71.7 L334.5,72.7 L335.1,73.6 L335.6,74.5 L336.1,75.4 L336.5,76.1 L337.0,76.8 L337.4,77.4 L337.8,77.8 L338.1,78.2 L338.4,78.6 L338.7,78.9 L339.1,79.2 L339.4,79.4 L339.8,79.6 L340.3,79.9 L340.8,80.1 L341.4,80.3 L342.0,80.5 L342.7,80.7 L343.4,80.8 L344.2,81.0 L345.0,81.1 L345.8,81.3 L346.7,81.4 L347.5,81.6 L348.4,81.9 L349.3,82.2 L350.3,82.7 L351.3,83.2 L352.4,83.7 L353.5,84.2 L354.6,84.7 L355.6,85.2 L356.7,85.5 L357.7,85.7 L358.6,85.7 L359.5,85.6 L360.3,85.3 L361.1,84.9 L361.9,84.5 L362.7,83.9 L363.4,83.3 L364.2,82.7 L364.9,82.0 L365.6,81.3 L366.3,80.6 L367.0,79.8 L367.6,79.0 L368.3,78.1 L368.9,77.1 L369.5,76.1 L370.1,75.2 L370.7,74.2 L371.4,73.3 L372.0,72.5 L372.6,71.7 L373.2,71.0 L373.8,70.4 L374.4,69.8 L375.0,69.3 L375.6,68.8 L376.2,68.3 L376.8,67.8 L377.5,67.4 L378.2,67.0 L379.0,66.6 L379.9,66.2 L380.8,65.9 L381.8,65.6 L382.8,65.3 L383.9,65.1 L384.9,64.9 L386.0,64.6 L387.1,64.4 L388.2,64.3 L389.2,64.1 L390.2,63.9 L391.3,63.8 L392.4,63.7 L393.5,63.6 L394.5,63.5 L395.6,63.5 L396.6,63.4 L397.6,63.4 L398.5,63.3 L399.4,63.3 L400.2,63.3 L400.9,63.2 L401.6,63.2 L402.3,63.2 L402.9,63.2 L403.5,63.2 L404.1,63.2 L404.6,63.2 L405.2,63.3 L405.7,63.3 L406.2,63.4 L406.7,63.5 L407.1,63.6 L407.5,63.7 L408.0,63.9 L408.4,64.0 L408.8,64.1 L409.2,64.1 L409.6,64.2 L410.0,64.1 L410.4,64.0 L410.9,63.8 L411.3,63.6 L411.7,63.4 L412.1,63.1 L412.5,62.8 L413.0,62.5 L413.5,62.2 L414.0,61.8 L414.6,61.5 L415.2,61.2 L415.9,60.8 L416.5,60.4 L417.2,60.0 L417.9,59.6 L418.7,59.1 L419.5,58.7 L420.4,58.4 L421.3,58.0 L422.3,57.7 L423.4,57.4 L424.8,57.2 L426.2,57.0 L427.7,56.7 L429.3,56.6 L430.8,56.4 L432.2,56.2 L433.4,56.1 L434.5,56.0 L435.3,55.9" fill="none" stroke="#1A6FDF" stroke-width="1.2"/>
<path d="M295.6,83.1 L297.2,83.2 L299.3,83.4 L301.8,83.6 L304.7,83.8 L307.7,84.0 L310.7,84.3 L313.6,84.6 L316.3,84.9 L318.7,85.2 L320.5,85.6 L321.9,86.0 L323.0,86.4 L323.8,86.8 L324.4,87.3 L324.9,87.8 L325.3,88.3 L325.6,88.8 L325.9,89.4 L326.3,90.0 L326.8,90.7 L327.4,91.4 L327.9,92.3 L328.4,93.1 L328.9,94.0 L329.4,95.0 L329.9,95.9 L330.4,96.9 L330.9,97.8 L331.4,98.7 L331.9,99.6 L332.4,100.4 L332.9,101.3 L333.5,102.1 L334.0,103.0 L334.5,103.8 L335.1,104.6 L335.6,105.3 L336.1,106.0 L336.5,106.7 L337.0,107.3 L337.4,107.8 L337.8,108.3 L338.1,108.8 L338.4,109.2 L338.7,109.6 L339.1,109.9 L339.4,110.2 L339.8,110.5 L340.3,110.8 L340.8,111.1 L341.4,111.4 L342.0,111.6 L342.7,111.7 L343.4,111.9 L344.2,112.0 L345.0,112.2 L345.8,112.3 L346.7,112.5 L347.5,112.8 L348.4,113.1 L349.3,113.5 L350.3,114.1 L351.3,114.8 L352.4,115.5 L353.5,116.2 L354.6,116.9 L355.6,117.5 L356.7,117.9 L357.7,118.2 L358.6,118.2 L359.5,118.0 L360.3,117.6 L361.1,117.1 L361.9,116.4 L362.7,115.6 L363.4,114.7 L364.2,113.8 L364.9,112.9 L365.6,112.0 L366.3,111.1 L367.0,110.2 L367.6,109.2 L368.3,108.1 L368.9,107.0 L369.5,105.9 L370.1,104.8 L370.7,103.7 L371.4,102.7 L372.0,101.7 L372.6,100.9 L373.2,100.1 L373.8,99.4 L374.4,98.8 L375.0,98.2 L375.6,97.6 L376.2,97.1 L376.8,96.6 L377.5,96.1 L378.2,95.7 L379.0,95.3 L379.9,95.0 L380.8,94.7 L381.8,94.4 L382.8,94.2 L383.9,94.0 L384.9,93.9 L386.0,93.7 L387.1,93.6 L388.2,93.5 L389.2,93.3 L390.2,93.1 L391.3,93.0 L392.4,92.8 L393.5,92.7 L394.5,92.6 L395.6,92.5 L396.6,92.3 L397.6,92.2 L398.5,92.1 L399.4,92.0 L400.2,91.9 L400.9,91.8 L401.6,91.7 L402.3,91.7 L402.9,91.6 L403.5,91.5 L404.1,91.4 L404.6,91.4 L405.2,91.3 L405.7,91.2 L406.2,91.1 L406.7,91.0 L407.1,90.9 L407.5,90.8 L408.0,90.7 L408.4,90.6 L408.8,90.5 L409.2,90.4 L409.6,90.3 L410.0,90.2 L410.4,90.1 L410.9,89.9 L411.3,89.8 L411.7,89.7 L412.1,89.5 L412.5,89.3 L413.0,89.2 L413.5,89.0 L414.0,88.9 L414.6,88.7 L415.2,88.5 L415.9,88.4 L416.5,88.2 L417.2,88.0 L417.9,87.8 L418.7,87.6 L419.5,87.4 L420.4,87.2 L421.3,87.1 L422.3,86.9 L423.4,86.7 L424.8,86.6 L426.2,86.4 L427.7,86.3 L429.3,86.1 L430.8,86.0 L432.2,85.9 L433.4,85.8 L434.5,85.7 L435.3,85.6" fill="none" stroke="#F14040" stroke-width="1.2"/>
<path d="M295.6,115.6 L297.2,115.7 L299.3,115.9 L301.8,116.1 L304.7,116.3 L307.7,116.5 L310.7,116.7 L313.6,117.0 L316.3,117.3 L318.7,117.7 L320.5,118.1 L321.9,118.5 L323.0,119.0 L323.8,119.5 L324.4,120.0 L324.9,120.6 L325.3,121.2 L325.6,121.8 L325.9,122.5 L326.3,123.2 L326.8,124.0 L327.4,124.9 L327.9,125.8 L328.4,126.8 L328.9,127.8 L329.4,128.9 L329.9,130.0 L330.4,131.1 L330.9,132.2 L331.4,133.2 L331.9,134.2 L332.4,135.2 L332.9,136.1 L333.5,137.1 L334.0,138.1 L334.5,139.0 L335.1,139.9 L335.6,140.8 L336.1,141.6 L336.5,142.4 L337.0,143.1 L337.4,143.7 L337.8,144.3 L338.1,144.9 L338.4,145.4 L338.7,145.8 L339.1,146.2 L339.4,146.6 L339.8,147.0 L340.3,147.3 L340.8,147.7 L341.4,148.0 L342.0,148.3 L342.7,148.5 L343.4,148.7 L344.2,148.9 L345.0,149.1 L345.8,149.3 L346.7,149.6 L347.5,149.9 L348.4,150.2 L349.3,150.6 L350.3,151.2 L351.3,151.8 L352.4,152.5 L353.5,153.2 L354.6,153.8 L355.6,154.4 L356.7,154.9 L357.7,155.2 L358.6,155.3 L359.5,155.3 L360.3,155.1 L361.1,154.9 L361.9,154.5 L362.7,154.1 L363.4,153.6 L364.2,153.0 L364.9,152.3 L365.6,151.5 L366.3,150.7 L367.0,149.7 L367.6,148.6 L368.3,147.4 L368.9,146.1 L369.5,144.7 L370.1,143.3 L370.7,141.9 L371.4,140.5 L372.0,139.2 L372.6,138.0 L373.2,136.8 L373.8,135.6 L374.4,134.5 L375.0,133.3 L375.6,132.1 L376.2,131.0 L376.8,130.0 L377.5,129.0 L378.2,128.1 L379.0,127.3 L379.9,126.6 L380.8,126.0 L381.8,125.4 L382.8,124.9 L383.9,124.5 L384.9,124.1 L386.0,123.7 L387.1,123.4 L388.2,123.0 L389.2,122.7 L390.2,122.4 L391.3,122.0 L392.4,121.7 L393.5,121.5 L394.5,121.2 L395.6,121.0 L396.6,120.8 L397.6,120.6 L398.5,120.4 L399.4,120.2 L400.2,120.0 L400.9,119.9 L401.6,119.8 L402.3,119.7 L402.9,119.6 L403.5,119.5 L404.1,119.4 L404.6,119.4 L405.2,119.3 L405.7,119.2 L406.2,119.1 L406.7,119.0 L407.1,118.9 L407.5,118.9 L408.0,118.8 L408.4,118.7 L408.8,118.6 L409.2,118.6 L409.6,118.5 L410.0,118.4 L410.4,118.3 L410.9,118.3 L411.3,118.2 L411.7,118.1 L412.1,118.0 L412.5,118.0 L413.0,117.9 L413.5,117.8 L414.0,117.8 L414.6,117.7 L415.2,117.6 L415.9,117.5 L416.5,117.5 L417.2,117.4 L417.9,117.3 L418.7,117.2 L419.5,117.1 L420.4,117.0 L421.3,117.0 L422.3,116.9 L423.4,116.8 L424.8,116.8 L426.2,116.7 L427.7,116.7 L429.3,116.6 L430.8,116.5 L432.2,116.5 L433.4,116.5 L434.5,116.4 L435.3,116.4" fill="none" stroke="#515151" stroke-width="1.2"/>
<rect x="295.6" y="7.5" width="139.7" height="161.5" fill="none" stroke="#1a1a1a" stroke-width="1.3"/>
<line x1="315.90" y1="169.00" x2="315.90" y2="172.00" stroke="#1a1a1a" stroke-width="1.1" />
<text x="315.9" y="183.6" font-size="12.3" text-anchor="middle" fill="#111" font-weight="bold"  stroke="#111">1750</text>
<line x1="355.70" y1="169.00" x2="355.70" y2="172.00" stroke="#1a1a1a" stroke-width="1.1" />
<text x="355.7" y="183.6" font-size="12.3" text-anchor="middle" fill="#111" font-weight="bold"  stroke="#111">1700</text>
<line x1="395.50" y1="169.00" x2="395.50" y2="172.00" stroke="#1a1a1a" stroke-width="1.1" />
<text x="395.5" y="183.6" font-size="12.3" text-anchor="middle" fill="#111" font-weight="bold"  stroke="#111">1650</text>
<line x1="435.30" y1="169.00" x2="435.30" y2="172.00" stroke="#1a1a1a" stroke-width="1.1" />
<text x="435.3" y="183.6" font-size="12.3" text-anchor="middle" fill="#111" font-weight="bold"  stroke="#111">1600</text>
<line x1="335.80" y1="169.00" x2="335.80" y2="171.00" stroke="#1a1a1a" stroke-width="1.0" />
<line x1="375.60" y1="169.00" x2="375.60" y2="171.00" stroke="#1a1a1a" stroke-width="1.0" />
<line x1="415.40" y1="169.00" x2="415.40" y2="171.00" stroke="#1a1a1a" stroke-width="1.0" />
<text x="297.5" y="42.6" font-size="8.4" text-anchor="start" fill="#111" font-weight="bold"  stroke="#111">1716 cm<tspan font-size="6.2" dy="-3.4" dx="0.5" stroke-width="0.25">&#8722;1</tspan></text>
<text x="342.8" y="35.5" font-size="8.4" text-anchor="start" fill="#111" font-weight="bold"  stroke="#111">1698 cm<tspan font-size="6.2" dy="-3.4" dx="0.5" stroke-width="0.25">&#8722;1</tspan></text>
<text x="396.3" y="22.4" font-size="8.4" text-anchor="start" fill="#111" font-weight="bold"  stroke="#111">1631 cm<tspan font-size="6.2" dy="-3.4" dx="0.5" stroke-width="0.25">&#8722;1</tspan></text>
<line x1="339.50" y1="47.80" x2="326.80" y2="44.50" stroke="#111" stroke-width="1.15" />
<polygon points="326.80,44.50 332.17,43.72 331.11,47.79" fill="#111"/>
<line x1="358.40" y1="49.50" x2="358.40" y2="38.30" stroke="#111" stroke-width="1.15" />
<polygon points="358.40,38.30 360.50,43.30 356.30,43.30" fill="#111"/>
<line x1="409.50" y1="36.50" x2="409.50" y2="24.80" stroke="#111" stroke-width="1.15" />
<polygon points="409.50,24.80 411.60,29.80 407.40,29.80" fill="#111"/>
<text x="297.5" y="77.6" font-size="8.4" text-anchor="start" fill="#111" font-weight="bold"  stroke="#111">1717 cm<tspan font-size="6.2" dy="-3.4" dx="0.5" stroke-width="0.25">&#8722;1</tspan></text>
<text x="342.0" y="70.0" font-size="8.4" text-anchor="start" fill="#111" font-weight="bold"  stroke="#111">1697 cm<tspan font-size="6.2" dy="-3.4" dx="0.5" stroke-width="0.25">&#8722;1</tspan></text>
<text x="395.5" y="50.4" font-size="8.4" text-anchor="start" fill="#111" font-weight="bold"  stroke="#111">1632 cm<tspan font-size="6.2" dy="-3.4" dx="0.5" stroke-width="0.25">&#8722;1</tspan></text>
<line x1="339.50" y1="82.00" x2="326.80" y2="78.60" stroke="#111" stroke-width="1.15" />
<polygon points="326.80,78.60 332.17,77.86 331.09,81.92" fill="#111"/>
<line x1="358.40" y1="84.00" x2="358.40" y2="73.00" stroke="#111" stroke-width="1.15" />
<polygon points="358.40,73.00 360.50,78.00 356.30,78.00" fill="#111"/>
<line x1="409.50" y1="62.50" x2="409.50" y2="51.50" stroke="#111" stroke-width="1.15" />
<polygon points="409.50,51.50 411.60,56.50 407.40,56.50" fill="#111"/>
<text x="297.5" y="110.0" font-size="8.4" text-anchor="start" fill="#111" font-weight="bold"  stroke="#111">1717 cm<tspan font-size="6.2" dy="-3.4" dx="0.5" stroke-width="0.25">&#8722;1</tspan></text>
<text x="338.8" y="101.8" font-size="8.4" text-anchor="start" fill="#111" font-weight="bold"  stroke="#111">1697 cm<tspan font-size="6.2" dy="-3.4" dx="0.5" stroke-width="0.25">&#8722;1</tspan></text>
<text x="395.5" y="75.9" font-size="8.4" text-anchor="start" fill="#111" font-weight="bold"  stroke="#111">1632 cm<tspan font-size="6.2" dy="-3.4" dx="0.5" stroke-width="0.25">&#8722;1</tspan></text>
<line x1="338.30" y1="113.40" x2="326.80" y2="111.00" stroke="#111" stroke-width="1.15" />
<polygon points="326.80,111.00 332.12,109.97 331.27,114.08" fill="#111"/>
<line x1="358.40" y1="115.50" x2="358.40" y2="105.00" stroke="#111" stroke-width="1.15" />
<polygon points="358.40,105.00 360.50,110.00 356.30,110.00" fill="#111"/>
<line x1="409.50" y1="87.50" x2="409.50" y2="77.00" stroke="#111" stroke-width="1.15" />
<polygon points="409.50,77.00 411.60,82.00 407.40,82.00" fill="#111"/>
<text x="297.0" y="144.6" font-size="8.4" text-anchor="start" fill="#111" font-weight="bold"  stroke="#111">1717 cm<tspan font-size="6.2" dy="-3.4" dx="0.5" stroke-width="0.25">&#8722;1</tspan></text>
<text x="337.0" y="137.8" font-size="8.4" text-anchor="start" fill="#111" font-weight="bold"  stroke="#111">1696 cm<tspan font-size="6.2" dy="-3.4" dx="0.5" stroke-width="0.25">&#8722;1</tspan></text>
<line x1="338.30" y1="149.00" x2="326.80" y2="146.30" stroke="#111" stroke-width="1.15" />
<polygon points="326.80,146.30 332.15,145.40 331.19,149.49" fill="#111"/>
<line x1="358.40" y1="153.00" x2="358.40" y2="141.00" stroke="#111" stroke-width="1.15" />
<polygon points="358.40,141.00 360.50,146.00 356.30,146.00" fill="#111"/>
<g fill="none" stroke="#F07A2A" stroke-width="2.3" stroke-dasharray="7.5,3.2">
<rect x="207" y="22" width="12.3" height="129.8"/>
<line x1="219.3" y1="22" x2="295.6" y2="7.5"/><line x1="219.3" y1="151.8" x2="295.6" y2="169"/>
</g>
<path d="M54.5,362.2 L55.0,362.2 L55.5,362.1 L56.0,362.1 L56.5,362.0 L57.0,362.0 L57.5,361.9 L58.0,361.9 L58.5,361.8 L59.0,361.8 L59.5,361.8 L60.0,361.7 L60.5,361.7 L61.0,361.6 L61.5,361.6 L62.0,361.5 L62.5,361.5 L63.0,361.4 L63.5,361.4 L64.0,361.4 L64.5,361.3 L65.0,361.3 L65.5,361.2 L66.0,361.2 L66.5,361.1 L67.0,361.1 L67.5,361.0 L68.0,361.0 L68.5,360.9 L69.0,360.9 L69.5,360.9 L70.0,360.8 L70.5,360.8 L71.0,360.7 L71.5,360.7 L72.0,360.6 L72.5,360.6 L73.0,360.5 L73.5,360.5 L74.0,360.4 L74.5,360.4 L75.0,360.3 L75.5,360.3 L76.0,360.2 L76.5,360.2 L77.0,360.1 L77.5,360.1 L78.0,360.0 L78.5,360.0 L79.0,359.9 L79.5,359.9 L80.0,359.8 L80.5,359.8 L81.0,359.7 L81.5,359.7 L82.0,359.6 L82.5,359.6 L83.0,359.5 L83.5,359.5 L84.0,359.4 L84.6,359.4 L85.1,359.3 L85.6,359.2 L86.1,359.2 L86.6,359.1 L87.1,359.1 L87.6,359.0 L88.1,358.9 L88.6,358.9 L89.1,358.8 L89.6,358.8 L90.1,358.7 L90.6,358.6 L91.1,358.5 L91.7,358.5 L92.2,358.4 L92.7,358.3 L93.2,358.2 L93.7,358.1 L94.2,358.1 L94.7,358.0 L95.2,357.9 L95.7,357.8 L96.2,357.7 L96.7,357.6 L97.2,357.5 L97.7,357.4 L98.3,357.3 L98.8,357.1 L99.3,357.0 L99.8,356.9 L100.3,356.8 L100.8,356.6 L101.3,356.5 L101.8,356.4 L102.3,356.2 L102.8,356.1 L103.3,355.9 L103.8,355.8 L104.3,355.6 L104.9,355.4 L105.4,355.2 L105.9,355.0 L106.4,354.9 L107.0,354.6 L107.5,354.4 L108.0,354.2 L108.6,354.0 L109.1,353.7 L109.6,353.4 L110.2,353.2 L110.7,352.9 L111.2,352.5 L111.7,352.2 L112.3,351.9 L112.8,351.5 L113.3,351.1 L113.8,350.7 L114.3,350.3 L114.9,349.8 L115.4,349.4 L115.9,348.9 L116.4,348.4 L116.9,347.9 L117.5,347.3 L118.0,346.8 L118.5,346.2 L119.0,345.7 L119.5,345.1 L120.1,344.5 L120.6,343.9 L121.1,343.2 L121.6,342.6 L122.2,341.9 L122.7,341.2 L123.2,340.4 L123.7,339.6 L124.3,338.8 L124.8,338.0 L125.3,337.1 L125.8,336.2 L126.4,335.2 L126.9,334.3 L127.4,333.3 L128.0,332.3 L128.5,331.3 L129.0,330.2 L129.6,329.2 L130.1,328.2 L130.6,327.1 L131.1,326.1 L131.7,325.1 L132.2,324.1 L132.8,323.1 L133.3,322.0 L133.8,321.0 L134.4,320.0 L134.9,319.1 L135.5,318.1 L136.0,317.1 L136.6,316.1 L137.1,315.1 L137.7,314.1 L138.2,313.0 L138.8,312.0 L139.3,310.9 L139.9,309.8 L140.4,308.8 L141.0,307.7 L141.5,306.6 L142.1,305.5 L142.7,304.4 L143.2,303.3 L143.7,302.3 L144.3,301.2 L144.8,300.1 L145.4,299.1 L145.9,298.1 L146.5,297.1 L147.0,296.1 L147.6,295.1 L148.1,294.2 L148.6,293.4 L149.2,292.6 L149.7,291.8 L150.2,291.1 L150.8,290.5 L151.3,289.9 L151.8,289.3 L152.4,288.8 L152.9,288.3 L153.4,287.9 L153.9,287.5 L154.5,287.2 L155.0,286.9 L155.5,286.6 L156.1,286.4 L156.6,286.3 L157.1,286.1 L157.7,286.1 L158.2,286.0 L158.7,286.0 L159.2,286.0 L159.8,286.1 L160.3,286.1 L160.8,286.2 L161.3,286.3 L161.9,286.4 L162.4,286.6 L162.9,286.8 L163.5,287.0 L164.0,287.2 L164.5,287.4 L165.0,287.7 L165.6,288.0 L166.1,288.3 L166.6,288.6 L167.1,289.0 L167.7,289.4 L168.2,289.8 L168.7,290.2 L169.2,290.7 L169.7,291.2 L170.2,291.7 L170.8,292.2 L171.3,292.8 L171.8,293.3 L172.3,293.9 L172.8,294.5 L173.3,295.1 L173.8,295.7 L174.4,296.3 L174.9,296.9 L175.4,297.5 L175.9,298.2 L176.4,298.8 L176.9,299.4 L177.5,300.1 L178.0,300.7 L178.5,301.3 L179.0,302.0 L179.5,302.6 L180.0,303.2 L180.5,303.8 L181.1,304.4 L181.6,304.9 L182.1,305.5 L182.6,306.1 L183.1,306.6 L183.6,307.2 L184.2,307.7 L184.7,308.2 L185.2,308.7 L185.7,309.2 L186.2,309.7 L186.7,310.2 L187.3,310.7 L187.8,311.1 L188.3,311.6 L188.8,312.0 L189.3,312.5 L189.9,312.9 L190.4,313.3 L190.9,313.8 L191.4,314.2 L191.9,314.6 L192.4,314.9 L192.9,315.3 L193.4,315.7 L193.9,316.0 L194.5,316.4 L195.0,316.7 L195.5,317.1 L196.0,317.4 L196.5,317.7 L197.0,318.0 L197.5,318.3 L198.0,318.6 L198.5,318.9 L199.0,319.2 L199.5,319.5 L200.0,319.8 L200.5,320.0 L201.0,320.3 L201.5,320.5 L202.0,320.8 L202.5,321.0 L203.0,321.3 L203.5,321.5 L204.0,321.7 L204.5,321.9 L205.0,322.2 L205.5,322.4 L206.0,322.6 L206.5,322.8 L207.1,323.0 L207.6,323.1 L208.1,323.3 L208.6,323.5 L209.1,323.7 L209.6,323.9 L210.1,324.0 L210.7,324.2 L211.2,324.3 L211.7,324.5 L212.2,324.6 L212.7,324.8 L213.3,324.9 L213.8,325.0 L214.3,325.2 L214.8,325.3 L215.3,325.4 L215.8,325.5 L216.4,325.6 L216.9,325.7 L217.4,325.8 L217.9,325.9 L218.4,326.0 L218.9,326.1 L219.5,326.2 L220.0,326.3 L220.5,326.4 L221.0,326.5 L221.5,326.5 L222.0,326.6 L222.6,326.7 L223.1,326.7 L223.6,326.8 L224.1,326.9 L224.6,326.9 L225.1,327.0 L225.6,327.0 L226.1,327.1 L226.7,327.1 L227.2,327.2 L227.7,327.2 L228.2,327.3 L228.7,327.3 L229.2,327.3 L229.7,327.4 L230.2,327.4 L230.8,327.4 L231.3,327.4 L231.8,327.5 L232.3,327.5 L232.8,327.5 L233.3,327.5 L233.8,327.6 L234.3,327.6 L234.9,327.6 L235.4,327.6 L235.9,327.6 L236.4,327.6 L236.9,327.6 L237.4,327.6 L237.9,327.7 L238.4,327.7 L238.9,327.7 L239.4,327.7 L240.0,327.7 L240.5,327.7 L241.0,327.7 L241.5,327.7 L242.0,327.7 L242.5,327.7 L243.0,327.7 L243.5,327.7 L244.0,327.6 L244.5,327.6 L245.0,327.6 L245.5,327.6 L246.1,327.6 L246.6,327.6 L247.1,327.6 L247.6,327.6 L248.1,327.6 L248.6,327.6 L249.1,327.6 L249.6,327.5 L250.1,327.5 L250.6,327.5 L251.1,327.5 L251.7,327.5 L252.2,327.5 L252.7,327.5 L253.2,327.5 L253.7,327.4 L254.2,327.4" fill="none" stroke="#37AD6B" stroke-width="1.2"/>
<path d="M54.5,359.0 L55.0,358.9 L55.5,358.9 L56.0,358.8 L56.5,358.7 L57.0,358.7 L57.5,358.6 L58.0,358.5 L58.5,358.5 L59.0,358.4 L59.5,358.4 L60.0,358.3 L60.5,358.2 L61.0,358.2 L61.5,358.1 L62.0,358.1 L62.5,358.0 L63.0,357.9 L63.5,357.9 L64.0,357.8 L64.5,357.7 L65.0,357.7 L65.5,357.6 L66.0,357.6 L66.5,357.5 L67.0,357.4 L67.5,357.4 L68.0,357.3 L68.5,357.3 L69.0,357.2 L69.5,357.1 L70.0,357.1 L70.5,357.0 L71.0,357.0 L71.5,356.9 L72.0,356.8 L72.5,356.8 L73.0,356.7 L73.5,356.7 L74.0,356.6 L74.5,356.5 L75.0,356.5 L75.5,356.4 L76.0,356.4 L76.5,356.3 L77.0,356.3 L77.5,356.2 L78.0,356.1 L78.5,356.1 L79.0,356.0 L79.5,356.0 L80.0,355.9 L80.5,355.9 L81.0,355.8 L81.5,355.8 L82.0,355.7 L82.5,355.7 L83.0,355.6 L83.5,355.5 L84.0,355.5 L84.6,355.4 L85.1,355.4 L85.6,355.3 L86.1,355.3 L86.6,355.2 L87.1,355.2 L87.6,355.1 L88.1,355.1 L88.6,355.0 L89.1,355.0 L89.6,354.9 L90.1,354.9 L90.6,354.8 L91.1,354.8 L91.7,354.7 L92.2,354.7 L92.7,354.6 L93.2,354.6 L93.7,354.5 L94.2,354.4 L94.7,354.4 L95.2,354.3 L95.7,354.3 L96.2,354.2 L96.7,354.2 L97.2,354.1 L97.7,354.1 L98.3,354.0 L98.8,354.0 L99.3,353.9 L99.8,353.9 L100.3,353.8 L100.8,353.7 L101.3,353.7 L101.8,353.6 L102.3,353.6 L102.8,353.5 L103.3,353.5 L103.8,353.4 L104.3,353.3 L104.9,353.3 L105.4,353.2 L105.9,353.2 L106.4,353.1 L107.0,353.0 L107.5,352.9 L108.0,352.9 L108.6,352.8 L109.1,352.7 L109.6,352.7 L110.2,352.6 L110.7,352.5 L111.2,352.4 L111.7,352.3 L112.3,352.2 L112.8,352.1 L113.3,352.0 L113.8,351.9 L114.3,351.8 L114.9,351.7 L115.4,351.6 L115.9,351.4 L116.4,351.3 L116.9,351.2 L117.5,351.0 L118.0,350.9 L118.5,350.7 L119.0,350.6 L119.5,350.4 L120.1,350.3 L120.6,350.1 L121.1,349.9 L121.6,349.7 L122.1,349.6 L122.6,349.4 L123.1,349.2 L123.6,348.9 L124.1,348.7 L124.6,348.5 L125.1,348.2 L125.7,348.0 L126.2,347.7 L126.7,347.4 L127.2,347.1 L127.7,346.7 L128.2,346.4 L128.8,346.0 L129.3,345.7 L129.8,345.3 L130.3,344.9 L130.8,344.4 L131.4,344.0 L131.9,343.5 L132.4,343.0 L132.9,342.5 L133.4,342.0 L134.0,341.5 L134.5,340.9 L135.1,340.3 L135.6,339.7 L136.2,339.0 L136.7,338.3 L137.3,337.5 L137.8,336.7 L138.4,335.9 L138.9,334.9 L139.5,334.0 L140.0,333.0 L140.5,331.9 L141.0,330.9 L141.5,329.8 L142.1,328.6 L142.6,327.5 L143.1,326.4 L143.6,325.3 L144.1,324.2 L144.7,323.1 L145.2,322.0 L145.7,321.1 L146.2,320.1 L146.7,319.2 L147.3,318.4 L147.8,317.5 L148.3,316.7 L148.9,315.9 L149.4,315.0 L149.9,314.1 L150.4,313.1 L151.0,312.0 L151.5,310.9 L152.0,309.7 L152.5,308.4 L153.0,307.1 L153.5,305.7 L154.0,304.3 L154.5,302.8 L155.0,301.3 L155.6,299.8 L156.1,298.2 L156.6,296.5 L157.1,294.9 L157.6,293.2 L158.1,291.5 L158.7,289.8 L159.2,288.2 L159.7,286.5 L160.2,284.9 L160.7,283.3 L161.3,281.8 L161.8,280.3 L162.3,278.9 L162.8,277.5 L163.3,276.3 L163.9,275.0 L164.4,273.9 L164.9,272.9 L165.5,271.9 L166.0,271.1 L166.5,270.4 L167.1,269.7 L167.6,269.2 L168.2,268.7 L168.7,268.4 L169.2,268.2 L169.8,268.1 L170.3,268.0 L170.8,268.1 L171.4,268.3 L171.9,268.6 L172.4,268.9 L172.9,269.4 L173.5,269.9 L174.0,270.5 L174.5,271.1 L175.1,271.9 L175.6,272.7 L176.1,273.5 L176.7,274.5 L177.2,275.4 L177.7,276.4 L178.3,277.5 L178.8,278.5 L179.3,279.6 L179.8,280.7 L180.3,281.8 L180.9,283.0 L181.4,284.1 L181.9,285.2 L182.4,286.4 L182.9,287.5 L183.5,288.7 L184.0,289.8 L184.5,291.0 L185.0,292.1 L185.5,293.2 L186.0,294.3 L186.5,295.4 L187.0,296.5 L187.5,297.6 L188.0,298.7 L188.5,299.8 L189.0,300.8 L189.5,301.8 L190.0,302.9 L190.5,303.9 L191.0,304.9 L191.5,305.8 L192.1,306.8 L192.6,307.7 L193.1,308.6 L193.6,309.5 L194.1,310.4 L194.6,311.2 L195.1,312.0 L195.6,312.8 L196.1,313.5 L196.6,314.2 L197.1,314.9 L197.6,315.6 L198.1,316.3 L198.7,316.9 L199.2,317.5 L199.7,318.0 L200.2,318.5 L200.8,319.0 L201.3,319.5 L201.8,320.0 L202.3,320.4 L202.8,320.8 L203.4,321.2 L203.9,321.6 L204.4,321.9 L204.9,322.3 L205.5,322.6 L206.0,323.0 L206.5,323.3 L207.0,323.6 L207.6,323.9 L208.1,324.1 L208.6,324.4 L209.1,324.7 L209.6,325.0 L210.1,325.2 L210.7,325.5 L211.2,325.7 L211.7,326.0 L212.2,326.2 L212.7,326.4 L213.3,326.7 L213.8,326.9 L214.3,327.1 L214.8,327.3 L215.3,327.5 L215.8,327.7 L216.4,327.9 L216.9,328.1 L217.4,328.2 L217.9,328.4 L218.4,328.6 L218.9,328.7 L219.5,328.9 L220.0,329.0 L220.5,329.1 L221.0,329.3 L221.5,329.4 L222.0,329.5 L222.6,329.6 L223.1,329.7 L223.6,329.8 L224.1,329.9 L224.6,330.0 L225.1,330.1 L225.6,330.1 L226.1,330.2 L226.7,330.3 L227.2,330.3 L227.7,330.4 L228.2,330.4 L228.7,330.5 L229.2,330.5 L229.7,330.6 L230.2,330.6 L230.8,330.6 L231.3,330.7 L231.8,330.7 L232.3,330.7 L232.8,330.7 L233.3,330.8 L233.8,330.8 L234.3,330.8 L234.9,330.8 L235.4,330.8 L235.9,330.8 L236.4,330.8 L236.9,330.8 L237.4,330.8 L237.9,330.8 L238.4,330.8 L238.9,330.8 L239.4,330.8 L240.0,330.8 L240.5,330.8 L241.0,330.8 L241.5,330.8 L242.0,330.8 L242.5,330.8 L243.0,330.8 L243.5,330.7 L244.0,330.7 L244.5,330.7 L245.0,330.7 L245.5,330.7 L246.1,330.7 L246.6,330.6 L247.1,330.6 L247.6,330.6 L248.1,330.6 L248.6,330.5 L249.1,330.5 L249.6,330.5 L250.1,330.5 L250.6,330.5 L251.1,330.4 L251.7,330.4 L252.2,330.4 L252.7,330.4 L253.2,330.3 L253.7,330.3 L254.2,330.3" fill="none" stroke="#1A6FDF" stroke-width="1.2"/>
<path d="M54.5,358.3 L55.0,358.3 L55.5,358.2 L56.0,358.2 L56.5,358.2 L57.0,358.2 L57.5,358.2 L58.0,358.2 L58.5,358.1 L59.0,358.1 L59.5,358.1 L60.0,358.1 L60.5,358.1 L61.0,358.1 L61.5,358.1 L62.0,358.0 L62.5,358.0 L63.0,358.0 L63.5,358.0 L64.0,358.0 L64.5,358.0 L65.0,357.9 L65.5,357.9 L66.0,357.9 L66.5,357.9 L67.0,357.9 L67.5,357.8 L68.0,357.8 L68.5,357.8 L69.0,357.8 L69.5,357.8 L70.0,357.7 L70.5,357.7 L71.0,357.7 L71.5,357.7 L72.0,357.7 L72.5,357.6 L73.0,357.6 L73.5,357.6 L74.0,357.6 L74.5,357.5 L75.0,357.5 L75.5,357.5 L76.0,357.5 L76.5,357.4 L77.0,357.4 L77.5,357.4 L78.0,357.3 L78.5,357.3 L79.0,357.3 L79.5,357.3 L80.0,357.2 L80.5,357.2 L81.0,357.2 L81.5,357.1 L82.0,357.1 L82.5,357.1 L83.0,357.0 L83.5,357.0 L84.0,357.0 L84.6,356.9 L85.1,356.9 L85.6,356.8 L86.1,356.8 L86.6,356.8 L87.1,356.7 L87.6,356.7 L88.1,356.6 L88.6,356.6 L89.1,356.5 L89.6,356.5 L90.1,356.5 L90.6,356.4 L91.1,356.4 L91.7,356.3 L92.2,356.3 L92.7,356.2 L93.2,356.2 L93.7,356.1 L94.2,356.1 L94.7,356.0 L95.2,356.0 L95.7,355.9 L96.2,355.9 L96.7,355.8 L97.2,355.8 L97.7,355.7 L98.3,355.6 L98.8,355.6 L99.3,355.5 L99.8,355.5 L100.3,355.4 L100.8,355.4 L101.3,355.3 L101.8,355.2 L102.3,355.2 L102.8,355.1 L103.3,355.1 L103.8,355.0 L104.3,354.9 L104.9,354.9 L105.4,354.8 L105.9,354.8 L106.4,354.7 L107.0,354.6 L107.5,354.5 L108.0,354.5 L108.6,354.4 L109.1,354.3 L109.6,354.2 L110.2,354.0 L110.7,353.9 L111.2,353.8 L111.7,353.6 L112.3,353.5 L112.8,353.3 L113.3,353.1 L113.8,352.9 L114.3,352.7 L114.9,352.4 L115.4,352.2 L115.9,352.0 L116.4,351.7 L116.9,351.4 L117.5,351.2 L118.0,350.9 L118.5,350.6 L119.0,350.4 L119.5,350.1 L120.1,349.8 L120.6,349.5 L121.1,349.2 L121.6,348.9 L122.1,348.6 L122.6,348.3 L123.1,348.0 L123.6,347.7 L124.1,347.4 L124.6,347.1 L125.1,346.7 L125.7,346.4 L126.2,346.0 L126.7,345.6 L127.2,345.2 L127.7,344.8 L128.2,344.4 L128.8,343.9 L129.3,343.5 L129.8,343.0 L130.3,342.5 L130.8,342.0 L131.4,341.4 L131.9,340.9 L132.4,340.3 L132.9,339.7 L133.4,339.1 L134.0,338.5 L134.5,337.8 L135.0,337.2 L135.5,336.5 L136.0,335.7 L136.5,334.9 L137.0,334.1 L137.5,333.2 L138.1,332.3 L138.6,331.3 L139.1,330.3 L139.6,329.3 L140.1,328.2 L140.6,327.1 L141.1,326.1 L141.6,325.0 L142.1,323.9 L142.7,322.8 L143.2,321.6 L143.8,320.4 L144.4,319.1 L144.9,317.9 L145.5,316.7 L146.1,315.4 L146.6,314.1 L147.2,312.8 L147.7,311.6 L148.2,310.2 L148.7,308.9 L149.2,307.5 L149.8,306.1 L150.3,304.6 L150.8,303.1 L151.3,301.5 L151.8,299.9 L152.4,298.2 L152.9,296.5 L153.4,294.7 L153.9,292.9 L154.4,291.1 L154.9,289.3 L155.4,287.4 L155.9,285.5 L156.4,283.6 L157.0,281.8 L157.5,279.9 L158.0,278.1 L158.5,276.3 L159.0,274.4 L159.6,272.6 L160.1,270.8 L160.6,269.1 L161.2,267.4 L161.7,265.8 L162.3,264.4 L162.8,262.9 L163.3,261.6 L163.9,260.5 L164.4,259.4 L164.9,258.4 L165.4,257.6 L166.0,256.9 L166.5,256.3 L167.0,255.8 L167.5,255.5 L168.0,255.4 L168.6,255.4 L169.2,255.6 L169.7,256.0 L170.3,256.5 L170.8,257.1 L171.4,257.8 L171.9,258.6 L172.5,259.5 L173.0,260.4 L173.6,261.3 L174.1,262.3 L174.6,263.3 L175.2,264.3 L175.7,265.4 L176.2,266.6 L176.8,267.7 L177.3,268.9 L177.8,270.1 L178.3,271.4 L178.8,272.6 L179.3,273.9 L179.9,275.2 L180.4,276.5 L180.9,277.8 L181.4,279.2 L181.9,280.6 L182.4,281.9 L182.9,283.3 L183.4,284.6 L183.9,286.0 L184.4,287.3 L184.9,288.7 L185.4,290.0 L186.0,291.3 L186.5,292.5 L187.0,293.8 L187.5,295.0 L188.0,296.2 L188.5,297.4 L189.0,298.6 L189.5,299.7 L190.0,300.8 L190.5,302.0 L191.0,303.0 L191.5,304.1 L192.0,305.2 L192.5,306.3 L193.0,307.3 L193.5,308.3 L194.0,309.3 L194.5,310.3 L195.1,311.3 L195.6,312.3 L196.1,313.3 L196.6,314.2 L197.1,315.2 L197.6,316.2 L198.1,317.1 L198.7,318.1 L199.2,319.0 L199.7,319.9 L200.2,320.7 L200.8,321.6 L201.3,322.4 L201.8,323.1 L202.3,323.9 L202.8,324.6 L203.4,325.2 L203.9,325.9 L204.4,326.4 L204.9,327.0 L205.5,327.5 L206.0,328.0 L206.5,328.5 L207.0,328.9 L207.6,329.4 L208.1,329.8 L208.6,330.2 L209.1,330.6 L209.6,331.0 L210.1,331.4 L210.7,331.7 L211.2,332.1 L211.7,332.4 L212.2,332.7 L212.7,333.0 L213.3,333.3 L213.8,333.6 L214.3,333.9 L214.8,334.2 L215.3,334.5 L215.8,334.7 L216.4,335.0 L216.9,335.2 L217.4,335.4 L217.9,335.7 L218.4,335.9 L218.9,336.1 L219.5,336.3 L220.0,336.5 L220.5,336.7 L221.0,336.9 L221.5,337.1 L222.0,337.2 L222.6,337.4 L223.1,337.6 L223.6,337.7 L224.1,337.9 L224.6,338.0 L225.1,338.2 L225.6,338.3 L226.1,338.5 L226.7,338.6 L227.2,338.7 L227.7,338.9 L228.2,339.0 L228.7,339.1 L229.2,339.2 L229.7,339.3 L230.2,339.5 L230.8,339.6 L231.3,339.7 L231.8,339.8 L232.3,339.9 L232.8,340.0 L233.3,340.1 L233.8,340.2 L234.3,340.3 L234.9,340.4 L235.4,340.4 L235.9,340.5 L236.4,340.6 L236.9,340.7 L237.4,340.8 L237.9,340.9 L238.4,340.9 L238.9,341.0 L239.4,341.1 L240.0,341.2 L240.5,341.2 L241.0,341.3 L241.5,341.4 L242.0,341.5 L242.5,341.5 L243.0,341.6 L243.5,341.7 L244.0,341.7 L244.5,341.8 L245.0,341.9 L245.5,341.9 L246.1,342.0 L246.6,342.1 L247.1,342.1 L247.6,342.2 L248.1,342.2 L248.6,342.3 L249.1,342.4 L249.6,342.4 L250.1,342.5 L250.6,342.5 L251.1,342.6 L251.7,342.7 L252.2,342.7 L252.7,342.8 L253.2,342.8 L253.7,342.9 L254.2,342.9" fill="none" stroke="#F14040" stroke-width="1.2"/>
<path d="M54.5,358.5 L55.0,358.4 L55.5,358.4 L56.0,358.4 L56.5,358.3 L57.0,358.3 L57.5,358.3 L58.0,358.3 L58.5,358.2 L59.0,358.2 L59.5,358.2 L60.0,358.2 L60.5,358.1 L61.0,358.1 L61.5,358.1 L62.0,358.0 L62.5,358.0 L63.0,358.0 L63.5,358.0 L64.0,357.9 L64.5,357.9 L65.0,357.9 L65.5,357.9 L66.0,357.8 L66.5,357.8 L67.0,357.8 L67.5,357.8 L68.0,357.7 L68.5,357.7 L69.0,357.7 L69.5,357.6 L70.0,357.6 L70.5,357.6 L71.0,357.6 L71.5,357.5 L72.0,357.5 L72.5,357.5 L73.0,357.5 L73.5,357.4 L74.0,357.4 L74.5,357.4 L75.0,357.4 L75.5,357.4 L76.0,357.3 L76.5,357.3 L77.0,357.3 L77.5,357.3 L78.0,357.2 L78.5,357.2 L79.0,357.2 L79.5,357.2 L80.0,357.2 L80.5,357.1 L81.0,357.1 L81.5,357.1 L82.0,357.1 L82.5,357.0 L83.0,357.0 L83.5,357.0 L84.0,357.0 L84.6,357.0 L85.1,356.9 L85.6,356.9 L86.1,356.9 L86.6,356.9 L87.1,356.9 L87.6,356.8 L88.1,356.8 L88.6,356.8 L89.1,356.8 L89.6,356.8 L90.1,356.7 L90.6,356.7 L91.1,356.7 L91.7,356.7 L92.2,356.6 L92.7,356.6 L93.2,356.6 L93.7,356.6 L94.2,356.5 L94.7,356.5 L95.2,356.5 L95.7,356.4 L96.2,356.4 L96.7,356.4 L97.2,356.3 L97.7,356.3 L98.3,356.3 L98.8,356.2 L99.3,356.2 L99.8,356.1 L100.3,356.1 L100.8,356.0 L101.3,356.0 L101.8,355.9 L102.3,355.9 L102.8,355.8 L103.3,355.8 L103.8,355.7 L104.3,355.7 L104.9,355.6 L105.4,355.5 L105.9,355.5 L106.4,355.4 L107.0,355.3 L107.5,355.2 L108.0,355.1 L108.6,355.1 L109.1,355.0 L109.6,354.9 L110.2,354.8 L110.7,354.7 L111.2,354.6 L111.7,354.5 L112.3,354.3 L112.8,354.2 L113.3,354.1 L113.8,354.0 L114.3,353.9 L114.9,353.7 L115.4,353.6 L115.9,353.4 L116.4,353.3 L116.9,353.2 L117.5,353.0 L118.0,352.9 L118.5,352.7 L119.0,352.5 L119.5,352.4 L120.1,352.2 L120.6,352.1 L121.1,351.9 L121.6,351.8 L122.1,351.6 L122.6,351.4 L123.1,351.2 L123.6,351.1 L124.1,350.9 L124.6,350.7 L125.1,350.5 L125.7,350.3 L126.2,350.1 L126.7,349.9 L127.2,349.7 L127.7,349.4 L128.2,349.2 L128.8,348.9 L129.3,348.7 L129.8,348.4 L130.3,348.1 L130.8,347.8 L131.4,347.5 L131.9,347.2 L132.4,346.8 L132.9,346.4 L133.4,346.0 L134.0,345.6 L134.5,345.1 L135.1,344.6 L135.6,344.1 L136.2,343.6 L136.7,343.0 L137.3,342.4 L137.8,341.7 L138.4,341.0 L138.9,340.3 L139.5,339.5 L140.0,338.8 L140.5,338.0 L141.0,337.2 L141.5,336.3 L142.1,335.4 L142.6,334.5 L143.1,333.6 L143.6,332.6 L144.1,331.7 L144.7,330.7 L145.2,329.7 L145.7,328.6 L146.2,327.6 L146.7,326.6 L147.2,325.5 L147.8,324.5 L148.3,323.4 L148.8,322.3 L149.3,321.2 L149.8,320.1 L150.3,318.9 L150.8,317.7 L151.3,316.5 L151.8,315.3 L152.4,314.1 L152.9,312.8 L153.4,311.5 L153.9,310.1 L154.4,308.7 L154.9,307.3 L155.4,305.9 L155.9,304.3 L156.4,302.8 L157.0,301.1 L157.5,299.4 L158.0,297.7 L158.5,295.9 L159.0,293.9 L159.5,292.0 L160.0,289.9 L160.6,287.8 L161.1,285.7 L161.6,283.6 L162.1,281.4 L162.6,279.2 L163.2,277.0 L163.7,274.8 L164.2,272.7 L164.7,270.6 L165.2,268.5 L165.8,266.4 L166.3,264.5 L166.8,262.5 L167.3,260.7 L167.8,258.9 L168.4,257.1 L168.9,255.4 L169.4,253.8 L169.9,252.2 L170.4,250.7 L171.0,249.3 L171.5,248.0 L172.0,246.7 L172.5,245.5 L173.0,244.3 L173.6,243.2 L174.1,242.2 L174.6,241.3 L175.2,240.5 L175.7,239.7 L176.2,239.0 L176.8,238.4 L177.3,237.9 L177.9,237.5 L178.4,237.1 L178.9,236.8 L179.5,236.7 L180.0,236.6 L180.5,236.6 L181.1,236.7 L181.6,236.9 L182.2,237.2 L182.7,237.7 L183.3,238.3 L183.8,239.0 L184.4,239.9 L184.9,240.9 L185.4,242.0 L186.0,243.4 L186.6,244.9 L187.2,246.6 L187.7,248.4 L188.3,250.2 L188.9,252.2 L189.4,254.1 L190.0,256.0 L190.5,257.9 L191.0,259.8 L191.6,261.7 L192.1,263.6 L192.6,265.5 L193.1,267.5 L193.7,269.4 L194.2,271.4 L194.7,273.3 L195.3,275.3 L195.8,277.2 L196.3,279.1 L196.9,281.1 L197.4,283.0 L197.9,284.9 L198.4,286.7 L199.0,288.6 L199.5,290.4 L200.0,292.3 L200.6,294.1 L201.1,295.8 L201.6,297.6 L202.1,299.3 L202.7,301.0 L203.2,302.6 L203.8,304.3 L204.3,305.9 L204.8,307.4 L205.4,308.9 L205.9,310.3 L206.5,311.7 L207.0,313.0 L207.6,314.2 L208.1,315.4 L208.6,316.4 L209.1,317.5 L209.6,318.5 L210.1,319.4 L210.7,320.3 L211.2,321.2 L211.7,322.1 L212.2,322.9 L212.7,323.7 L213.3,324.6 L213.8,325.4 L214.3,326.2 L214.8,327.0 L215.3,327.9 L215.8,328.7 L216.4,329.5 L216.9,330.3 L217.4,331.1 L217.9,331.8 L218.4,332.6 L218.9,333.4 L219.5,334.1 L220.0,334.9 L220.5,335.6 L221.0,336.3 L221.5,337.1 L222.0,337.7 L222.6,338.4 L223.1,339.1 L223.6,339.7 L224.1,340.3 L224.6,341.0 L225.1,341.6 L225.6,342.1 L226.1,342.7 L226.7,343.3 L227.2,343.8 L227.7,344.3 L228.2,344.9 L228.7,345.4 L229.2,345.9 L229.7,346.3 L230.2,346.8 L230.8,347.3 L231.3,347.7 L231.8,348.1 L232.3,348.5 L232.8,349.0 L233.3,349.3 L233.8,349.7 L234.3,350.1 L234.9,350.4 L235.4,350.8 L235.9,351.1 L236.4,351.4 L236.9,351.8 L237.5,352.1 L238.0,352.3 L238.5,352.6 L239.0,352.9 L239.5,353.1 L240.1,353.4 L240.6,353.6 L241.1,353.9 L241.6,354.1 L242.1,354.3 L242.7,354.5 L243.2,354.7 L243.7,354.9 L244.2,355.1 L244.7,355.2 L245.3,355.4 L245.8,355.6 L246.3,355.7 L246.8,355.9 L247.4,356.0 L247.9,356.2 L248.4,356.3 L248.9,356.4 L249.5,356.5 L250.0,356.7 L250.5,356.8 L251.0,356.9 L251.6,357.0 L252.1,357.1 L252.6,357.2 L253.1,357.3 L253.7,357.5 L254.2,357.6" fill="none" stroke="#515151" stroke-width="1.2"/>
<line x1="54.50" y1="314.41" x2="254.20" y2="314.41" stroke="#222" stroke-width="1.1" stroke-dasharray="4.2,3"/>
<rect x="54.5" y="207.4" width="199.7" height="160.49999999999997" fill="none" stroke="#1a1a1a" stroke-width="1.3"/>
<line x1="51.50" y1="367.90" x2="54.50" y2="367.90" stroke="#1a1a1a" stroke-width="1.1" />
<text x="48.9" y="371.5" font-size="12.3" text-anchor="end" fill="#111" font-weight="bold"  stroke="#111">0.0</text>
<line x1="51.50" y1="314.41" x2="54.50" y2="314.41" stroke="#1a1a1a" stroke-width="1.1" />
<text x="48.9" y="318.01" font-size="12.3" text-anchor="end" fill="#111" font-weight="bold"  stroke="#111">0.3</text>
<line x1="51.50" y1="260.92" x2="54.50" y2="260.92" stroke="#1a1a1a" stroke-width="1.1" />
<text x="48.9" y="264.52" font-size="12.3" text-anchor="end" fill="#111" font-weight="bold"  stroke="#111">0.6</text>
<line x1="51.50" y1="207.43" x2="54.50" y2="207.43" stroke="#1a1a1a" stroke-width="1.1" />
<text x="48.9" y="211.02999999999994" font-size="12.3" text-anchor="end" fill="#111" font-weight="bold"  stroke="#111">0.9</text>
<line x1="52.50" y1="341.15" x2="54.50" y2="341.15" stroke="#1a1a1a" stroke-width="1.0" />
<line x1="52.50" y1="287.66" x2="54.50" y2="287.66" stroke="#1a1a1a" stroke-width="1.0" />
<line x1="52.50" y1="234.17" x2="54.50" y2="234.17" stroke="#1a1a1a" stroke-width="1.0" />
<line x1="68.76" y1="367.90" x2="68.76" y2="370.90" stroke="#1a1a1a" stroke-width="1.1" />
<text x="68.76428571428572" y="383.2" font-size="12.3" text-anchor="middle" fill="#111" font-weight="bold"  stroke="#111">&#8722;60</text>
<line x1="97.29" y1="367.90" x2="97.29" y2="370.90" stroke="#1a1a1a" stroke-width="1.1" />
<text x="97.29285714285714" y="383.2" font-size="12.3" text-anchor="middle" fill="#111" font-weight="bold"  stroke="#111">&#8722;40</text>
<line x1="125.82" y1="367.90" x2="125.82" y2="370.90" stroke="#1a1a1a" stroke-width="1.1" />
<text x="125.82142857142857" y="383.2" font-size="12.3" text-anchor="middle" fill="#111" font-weight="bold"  stroke="#111">&#8722;20</text>
<line x1="154.35" y1="367.90" x2="154.35" y2="370.90" stroke="#1a1a1a" stroke-width="1.1" />
<text x="154.35" y="383.2" font-size="12.3" text-anchor="middle" fill="#111" font-weight="bold"  stroke="#111">0</text>
<line x1="182.88" y1="367.90" x2="182.88" y2="370.90" stroke="#1a1a1a" stroke-width="1.1" />
<text x="182.87857142857143" y="383.2" font-size="12.3" text-anchor="middle" fill="#111" font-weight="bold"  stroke="#111">20</text>
<line x1="211.41" y1="367.90" x2="211.41" y2="370.90" stroke="#1a1a1a" stroke-width="1.1" />
<text x="211.40714285714284" y="383.2" font-size="12.3" text-anchor="middle" fill="#111" font-weight="bold"  stroke="#111">40</text>
<line x1="239.94" y1="367.90" x2="239.94" y2="370.90" stroke="#1a1a1a" stroke-width="1.1" />
<text x="239.93571428571428" y="383.2" font-size="12.3" text-anchor="middle" fill="#111" font-weight="bold"  stroke="#111">60</text>
<line x1="83.03" y1="367.90" x2="83.03" y2="369.90" stroke="#1a1a1a" stroke-width="1.0" />
<line x1="111.56" y1="367.90" x2="111.56" y2="369.90" stroke="#1a1a1a" stroke-width="1.0" />
<line x1="140.09" y1="367.90" x2="140.09" y2="369.90" stroke="#1a1a1a" stroke-width="1.0" />
<line x1="168.61" y1="367.90" x2="168.61" y2="369.90" stroke="#1a1a1a" stroke-width="1.0" />
<line x1="197.14" y1="367.90" x2="197.14" y2="369.90" stroke="#1a1a1a" stroke-width="1.0" />
<line x1="225.67" y1="367.90" x2="225.67" y2="369.90" stroke="#1a1a1a" stroke-width="1.0" />
<text x="154.4" y="397.6" font-size="13.8" text-anchor="middle" fill="#111" font-weight="bold"  stroke="#111">Temperature (&#176;C)</text>
<text font-size="14" font-weight="bold" fill="#111" stroke="#111" text-anchor="middle" transform="translate(30,288.5) rotate(-90)">Tan &#948;</text>
<text x="4.8" y="213.2" font-size="21" text-anchor="start" fill="#111" font-weight="bold"  stroke="#111">(b)</text>
<line x1="58.30" y1="215.90" x2="81.90" y2="215.90" stroke="#515151" stroke-width="1.5" />
<text x="85" y="219.5" font-size="10.75" text-anchor="start" fill="#111" font-weight="bold"  stroke="#111">PU<tspan font-size="7.1" dy="3.2" stroke-width="0.05">650</tspan><tspan dy="-3.2">-7</tspan></text>
<line x1="58.30" y1="231.70" x2="81.90" y2="231.70" stroke="#F14040" stroke-width="1.5" />
<text x="85" y="235.3" font-size="10.75" text-anchor="start" fill="#111" font-weight="bold"  stroke="#111">PU<tspan font-size="7.1" dy="3.2" stroke-width="0.05">650</tspan><tspan dy="-3.2">-7(6/9)</tspan></text>
<line x1="58.30" y1="247.50" x2="81.90" y2="247.50" stroke="#1A6FDF" stroke-width="1.5" />
<text x="85" y="251.1" font-size="10.75" text-anchor="start" fill="#111" font-weight="bold"  stroke="#111">PU<tspan font-size="7.1" dy="3.2" stroke-width="0.05">650</tspan><tspan dy="-3.2">-7(2/9)</tspan></text>
<line x1="58.30" y1="263.30" x2="81.90" y2="263.30" stroke="#37AD6B" stroke-width="1.5" />
<text x="85" y="266.90000000000003" font-size="10.75" text-anchor="start" fill="#111" font-weight="bold"  stroke="#111">PU<tspan font-size="7.1" dy="3.2" stroke-width="0.05">650</tspan><tspan dy="-3.2">-7(0/9)</tspan></text>
<path d="M297.2,218.6 L297.7,218.7 L298.2,218.8 L298.7,218.8 L299.2,218.9 L299.7,219.0 L300.2,219.1 L300.7,219.1 L301.2,219.2 L301.7,219.3 L302.2,219.4 L302.7,219.4 L303.2,219.5 L303.7,219.6 L304.2,219.6 L304.7,219.7 L305.2,219.8 L305.7,219.9 L306.2,219.9 L306.7,220.0 L307.2,220.1 L307.7,220.2 L308.2,220.3 L308.7,220.3 L309.2,220.4 L309.8,220.5 L310.3,220.6 L310.8,220.6 L311.3,220.7 L311.8,220.8 L312.3,220.9 L312.8,221.0 L313.3,221.0 L313.8,221.1 L314.3,221.2 L314.8,221.3 L315.3,221.4 L315.8,221.5 L316.3,221.5 L316.8,221.6 L317.3,221.7 L317.8,221.8 L318.3,221.9 L318.8,222.0 L319.3,222.1 L319.8,222.2 L320.3,222.2 L320.8,222.3 L321.3,222.4 L321.8,222.5 L322.3,222.6 L322.8,222.7 L323.3,222.8 L323.8,222.9 L324.3,223.0 L324.8,223.1 L325.3,223.2 L325.8,223.3 L326.3,223.4 L326.8,223.5 L327.3,223.6 L327.8,223.7 L328.4,223.8 L328.9,223.9 L329.4,224.0 L329.9,224.1 L330.4,224.3 L330.9,224.4 L331.4,224.5 L331.9,224.6 L332.4,224.7 L332.9,224.8 L333.4,224.9 L333.9,225.1 L334.4,225.2 L334.9,225.3 L335.4,225.4 L335.9,225.5 L336.4,225.7 L336.9,225.8 L337.4,225.9 L337.9,226.0 L338.4,226.2 L338.9,226.3 L339.5,226.4 L340.0,226.5 L340.5,226.7 L341.0,226.8 L341.5,226.9 L342.0,227.1 L342.5,227.2 L343.0,227.3 L343.5,227.5 L344.0,227.6 L344.5,227.8 L345.0,227.9 L345.5,228.0 L346.0,228.2 L346.5,228.3 L347.0,228.5 L347.5,228.6 L348.0,228.8 L348.5,228.9 L349.0,229.1 L349.5,229.2 L350.1,229.4 L350.6,229.5 L351.1,229.7 L351.6,229.8 L352.1,230.0 L352.6,230.2 L353.1,230.3 L353.6,230.5 L354.1,230.7 L354.6,230.9 L355.2,231.0 L355.7,231.2 L356.2,231.4 L356.7,231.6 L357.2,231.8 L357.7,232.0 L358.2,232.3 L358.7,232.5 L359.2,232.7 L359.7,233.0 L360.3,233.2 L360.8,233.5 L361.3,233.8 L361.8,234.1 L362.3,234.4 L362.8,234.7 L363.3,235.0 L363.8,235.3 L364.3,235.7 L364.8,236.0 L365.3,236.4 L365.8,236.8 L366.3,237.2 L366.8,237.6 L367.3,238.0 L367.8,238.5 L368.3,238.9 L368.8,239.4 L369.3,239.9 L369.8,240.4 L370.3,240.9 L370.9,241.5 L371.4,242.0 L371.9,242.6 L372.4,243.2 L372.9,243.8 L373.4,244.5 L373.9,245.1 L374.4,245.8 L374.9,246.5 L375.4,247.2 L375.9,247.9 L376.4,248.6 L376.9,249.4 L377.5,250.1 L378.0,250.8 L378.5,251.6 L379.0,252.3 L379.5,253.0 L380.0,253.8 L380.5,254.5 L381.0,255.2 L381.5,255.9 L382.0,256.6 L382.5,257.3 L383.1,258.0 L383.6,258.6 L384.1,259.3 L384.6,260.0 L385.1,260.6 L385.6,261.3 L386.1,261.9 L386.6,262.6 L387.1,263.3 L387.6,263.9 L388.1,264.6 L388.6,265.3 L389.1,266.0 L389.6,266.7 L390.1,267.5 L390.7,268.2 L391.2,269.0 L391.7,269.8 L392.2,270.6 L392.7,271.4 L393.3,272.2 L393.8,273.0 L394.3,273.9 L394.8,274.7 L395.4,275.5 L395.9,276.4 L396.4,277.2 L396.9,278.1 L397.4,278.9 L398.0,279.7 L398.5,280.6 L399.0,281.4 L399.5,282.2 L400.0,283.0 L400.5,283.8 L401.0,284.6 L401.6,285.3 L402.1,286.1 L402.6,286.8 L403.1,287.5 L403.6,288.3 L404.1,289.0 L404.6,289.7 L405.1,290.3 L405.6,291.0 L406.1,291.7 L406.6,292.3 L407.1,293.0 L407.6,293.6 L408.1,294.2 L408.6,294.8 L409.1,295.4 L409.6,296.0 L410.2,296.6 L410.7,297.2 L411.2,297.7 L411.7,298.3 L412.2,298.8 L412.7,299.4 L413.3,299.9 L413.8,300.4 L414.3,300.9 L414.8,301.4 L415.3,301.9 L415.8,302.4 L416.4,302.9 L416.9,303.4 L417.4,304.0 L417.9,304.5 L418.4,305.0 L418.9,305.5 L419.5,306.0 L420.0,306.5 L420.5,307.0 L421.0,307.6 L421.5,308.1 L422.0,308.6 L422.5,309.1 L423.0,309.6 L423.5,310.2 L424.0,310.7 L424.5,311.2 L425.0,311.7 L425.5,312.2 L426.0,312.7 L426.5,313.2 L427.0,313.7 L427.5,314.2 L428.1,314.6 L428.6,315.1 L429.1,315.6 L429.7,316.0 L430.2,316.4 L430.7,316.9 L431.3,317.3 L431.8,317.7 L432.3,318.1 L432.9,318.5 L433.4,318.8 L433.9,319.2 L434.5,319.6 L435.0,320.0 L435.5,320.3 L436.0,320.6 L436.5,321.0 L437.0,321.3 L437.5,321.6 L438.0,322.0 L438.5,322.3 L439.0,322.6 L439.5,322.9 L440.0,323.2 L440.5,323.5 L441.0,323.8 L441.5,324.1 L442.0,324.4 L442.5,324.7 L443.0,324.9 L443.5,325.2 L444.0,325.5 L444.6,325.7 L445.1,325.9 L445.6,326.2 L446.1,326.4 L446.6,326.6 L447.1,326.8 L447.6,327.0 L448.1,327.2 L448.6,327.4 L449.1,327.6 L449.6,327.8 L450.1,327.9 L450.6,328.1 L451.2,328.2 L451.7,328.3 L452.2,328.5 L452.7,328.6 L453.2,328.7 L453.7,328.8 L454.3,328.9 L454.8,329.0 L455.3,329.1 L455.8,329.2 L456.3,329.3 L456.9,329.4 L457.4,329.5 L457.9,329.6 L458.4,329.7 L458.9,329.7 L459.4,329.8 L460.0,329.9 L460.5,330.0 L461.0,330.1 L461.5,330.1 L462.0,330.2 L462.5,330.3 L463.1,330.4 L463.6,330.5 L464.1,330.6 L464.6,330.7 L465.1,330.8 L465.6,330.9 L466.1,331.0 L466.6,331.1 L467.1,331.2 L467.6,331.3 L468.1,331.5 L468.6,331.6 L469.1,331.7 L469.6,331.8 L470.1,332.0 L470.6,332.1 L471.1,332.2 L471.6,332.4 L472.2,332.5 L472.7,332.6 L473.2,332.8 L473.7,332.9 L474.2,333.0 L474.7,333.2 L475.2,333.3 L475.7,333.5 L476.2,333.6 L476.7,333.8 L477.2,333.9 L477.7,334.1 L478.2,334.2 L478.7,334.4 L479.2,334.5 L479.8,334.7 L480.3,334.8 L480.8,335.0 L481.3,335.1 L481.8,335.3 L482.3,335.4 L482.9,335.6 L483.4,335.7 L483.9,335.9 L484.4,336.0 L484.9,336.2 L485.5,336.3 L486.0,336.5 L486.5,336.6 L487.0,336.8 L487.5,336.9 L488.0,337.1 L488.6,337.3 L489.1,337.4 L489.6,337.6 L490.1,337.7 L490.6,337.9 L491.1,338.0 L491.7,338.2 L492.2,338.3 L492.7,338.5" fill="none" stroke="#37AD6B" stroke-width="1.1"/>
<path d="M297.2,221.0 L297.7,221.1 L298.2,221.2 L298.7,221.2 L299.2,221.3 L299.7,221.3 L300.2,221.4 L300.7,221.5 L301.2,221.5 L301.7,221.6 L302.2,221.7 L302.7,221.7 L303.2,221.8 L303.7,221.9 L304.2,221.9 L304.7,222.0 L305.2,222.1 L305.7,222.1 L306.2,222.2 L306.7,222.3 L307.2,222.3 L307.7,222.4 L308.2,222.5 L308.7,222.6 L309.2,222.6 L309.8,222.7 L310.3,222.8 L310.8,222.9 L311.3,222.9 L311.8,223.0 L312.3,223.1 L312.8,223.2 L313.3,223.2 L313.8,223.3 L314.3,223.4 L314.8,223.5 L315.3,223.5 L315.8,223.6 L316.3,223.7 L316.8,223.8 L317.3,223.9 L317.8,224.0 L318.3,224.1 L318.8,224.1 L319.3,224.2 L319.8,224.3 L320.3,224.4 L320.8,224.5 L321.3,224.6 L321.8,224.7 L322.3,224.8 L322.8,224.9 L323.3,225.0 L323.8,225.1 L324.3,225.2 L324.8,225.3 L325.3,225.4 L325.8,225.5 L326.3,225.6 L326.8,225.7 L327.3,225.8 L327.8,225.9 L328.4,226.1 L328.9,226.2 L329.4,226.3 L329.9,226.4 L330.4,226.5 L330.9,226.6 L331.4,226.7 L331.9,226.9 L332.4,227.0 L332.9,227.1 L333.4,227.2 L333.9,227.3 L334.4,227.5 L334.9,227.6 L335.4,227.7 L335.9,227.8 L336.4,227.9 L336.9,228.1 L337.4,228.2 L337.9,228.3 L338.4,228.4 L338.9,228.6 L339.5,228.7 L340.0,228.8 L340.5,228.9 L341.0,229.1 L341.5,229.2 L342.0,229.3 L342.5,229.4 L343.0,229.6 L343.5,229.7 L344.0,229.8 L344.5,229.9 L345.0,230.1 L345.5,230.2 L346.0,230.3 L346.5,230.4 L347.0,230.6 L347.5,230.7 L348.0,230.8 L348.5,230.9 L349.0,231.0 L349.5,231.2 L350.1,231.3 L350.6,231.4 L351.1,231.5 L351.6,231.6 L352.1,231.8 L352.6,231.9 L353.1,232.0 L353.6,232.1 L354.1,232.2 L354.6,232.4 L355.1,232.5 L355.6,232.6 L356.1,232.7 L356.6,232.9 L357.1,233.0 L357.6,233.1 L358.1,233.3 L358.7,233.4 L359.2,233.6 L359.7,233.7 L360.2,233.9 L360.7,234.1 L361.2,234.2 L361.7,234.4 L362.2,234.6 L362.7,234.8 L363.2,235.0 L363.7,235.2 L364.2,235.4 L364.7,235.6 L365.2,235.8 L365.7,236.1 L366.2,236.3 L366.7,236.6 L367.3,236.8 L367.8,237.1 L368.3,237.4 L368.8,237.7 L369.3,238.0 L369.8,238.3 L370.3,238.6 L370.8,239.0 L371.3,239.3 L371.8,239.7 L372.3,240.0 L372.9,240.4 L373.4,240.8 L373.9,241.2 L374.4,241.6 L374.9,242.0 L375.4,242.4 L375.9,242.8 L376.4,243.2 L376.9,243.6 L377.5,244.1 L378.0,244.5 L378.5,245.0 L379.0,245.4 L379.5,245.9 L380.0,246.3 L380.5,246.8 L381.0,247.2 L381.5,247.7 L382.0,248.2 L382.5,248.6 L383.1,249.1 L383.6,249.6 L384.1,250.1 L384.6,250.6 L385.1,251.0 L385.6,251.5 L386.1,252.1 L386.6,252.6 L387.1,253.1 L387.6,253.7 L388.1,254.2 L388.6,254.8 L389.1,255.4 L389.6,255.9 L390.1,256.6 L390.7,257.2 L391.2,257.9 L391.7,258.5 L392.2,259.2 L392.7,259.9 L393.3,260.7 L393.8,261.4 L394.3,262.2 L394.8,262.9 L395.4,263.7 L395.9,264.5 L396.4,265.3 L396.9,266.1 L397.4,267.0 L398.0,267.8 L398.5,268.7 L399.0,269.6 L399.5,270.5 L400.0,271.4 L400.5,272.3 L401.0,273.2 L401.6,274.1 L402.1,275.0 L402.6,275.9 L403.1,276.9 L403.6,277.8 L404.1,278.7 L404.6,279.7 L405.1,280.6 L405.6,281.5 L406.1,282.5 L406.6,283.4 L407.1,284.3 L407.6,285.2 L408.1,286.2 L408.6,287.1 L409.1,287.9 L409.6,288.8 L410.2,289.7 L410.7,290.6 L411.2,291.4 L411.7,292.3 L412.2,293.1 L412.7,293.9 L413.3,294.7 L413.8,295.5 L414.3,296.3 L414.8,297.1 L415.3,297.9 L415.8,298.6 L416.4,299.4 L416.9,300.1 L417.4,300.8 L417.9,301.6 L418.4,302.3 L418.9,303.0 L419.5,303.7 L420.0,304.4 L420.5,305.1 L421.0,305.7 L421.5,306.4 L422.0,307.0 L422.5,307.7 L423.0,308.3 L423.5,308.9 L424.0,309.5 L424.5,310.1 L425.0,310.7 L425.5,311.2 L426.0,311.8 L426.5,312.3 L427.0,312.8 L427.5,313.3 L428.1,313.8 L428.6,314.3 L429.1,314.8 L429.7,315.2 L430.2,315.7 L430.7,316.1 L431.3,316.5 L431.8,316.9 L432.3,317.3 L432.9,317.7 L433.4,318.1 L433.9,318.5 L434.5,318.9 L435.0,319.3 L435.5,319.6 L436.0,320.0 L436.5,320.4 L437.0,320.8 L437.5,321.1 L438.0,321.5 L438.5,321.9 L439.0,322.2 L439.5,322.6 L440.0,322.9 L440.5,323.3 L441.0,323.6 L441.5,324.0 L442.0,324.3 L442.5,324.7 L443.0,325.0 L443.5,325.3 L444.0,325.6 L444.6,325.9 L445.1,326.3 L445.6,326.6 L446.1,326.8 L446.6,327.1 L447.1,327.4 L447.6,327.7 L448.1,327.9 L448.6,328.2 L449.1,328.4 L449.6,328.6 L450.1,328.9 L450.6,329.1 L451.2,329.3 L451.7,329.5 L452.2,329.7 L452.7,329.8 L453.2,330.0 L453.7,330.2 L454.3,330.3 L454.8,330.5 L455.3,330.6 L455.8,330.8 L456.3,330.9 L456.9,331.1 L457.4,331.2 L457.9,331.3 L458.4,331.4 L458.9,331.6 L459.4,331.7 L460.0,331.8 L460.5,331.9 L461.0,332.1 L461.5,332.2 L462.0,332.3 L462.5,332.4 L463.1,332.6 L463.6,332.7 L464.1,332.8 L464.6,332.9 L465.1,333.1 L465.6,333.2 L466.1,333.4 L466.6,333.5 L467.1,333.6 L467.6,333.8 L468.1,333.9 L468.6,334.1 L469.1,334.2 L469.6,334.4 L470.1,334.5 L470.6,334.7 L471.1,334.8 L471.6,335.0 L472.2,335.2 L472.7,335.3 L473.2,335.5 L473.7,335.6 L474.2,335.8 L474.7,336.0 L475.2,336.1 L475.7,336.3 L476.2,336.4 L476.7,336.6 L477.2,336.8 L477.7,336.9 L478.2,337.1 L478.7,337.2 L479.2,337.4 L479.8,337.6 L480.3,337.7 L480.8,337.9 L481.3,338.1 L481.8,338.2 L482.3,338.4 L482.9,338.5 L483.4,338.7 L483.9,338.8 L484.4,339.0 L484.9,339.2 L485.5,339.3 L486.0,339.5 L486.5,339.6 L487.0,339.8 L487.5,339.9 L488.0,340.1 L488.6,340.3 L489.1,340.4 L489.6,340.6 L490.1,340.7 L490.6,340.9 L491.1,341.0 L491.7,341.2 L492.2,341.3 L492.7,341.5" fill="none" stroke="#1A6FDF" stroke-width="1.1"/>
<path d="M297.2,218.2 L297.7,218.2 L298.2,218.3 L298.7,218.4 L299.2,218.4 L299.7,218.5 L300.2,218.6 L300.7,218.6 L301.2,218.7 L301.7,218.7 L302.2,218.8 L302.7,218.9 L303.2,218.9 L303.7,219.0 L304.2,219.0 L304.7,219.1 L305.2,219.2 L305.7,219.2 L306.2,219.3 L306.7,219.4 L307.2,219.4 L307.7,219.5 L308.2,219.6 L308.7,219.6 L309.2,219.7 L309.8,219.8 L310.3,219.8 L310.8,219.9 L311.3,219.9 L311.8,220.0 L312.3,220.1 L312.8,220.1 L313.3,220.2 L313.8,220.3 L314.3,220.4 L314.8,220.4 L315.3,220.5 L315.8,220.6 L316.3,220.6 L316.8,220.7 L317.3,220.8 L317.8,220.8 L318.3,220.9 L318.8,221.0 L319.3,221.1 L319.8,221.1 L320.3,221.2 L320.8,221.3 L321.3,221.4 L321.8,221.4 L322.3,221.5 L322.8,221.6 L323.3,221.7 L323.8,221.8 L324.3,221.8 L324.8,221.9 L325.3,222.0 L325.8,222.1 L326.3,222.2 L326.8,222.3 L327.3,222.3 L327.8,222.4 L328.4,222.5 L328.9,222.6 L329.4,222.7 L329.9,222.8 L330.4,222.9 L330.9,223.0 L331.4,223.1 L331.9,223.2 L332.4,223.2 L332.9,223.3 L333.4,223.4 L333.9,223.5 L334.4,223.6 L334.9,223.7 L335.4,223.9 L335.9,224.0 L336.4,224.1 L336.9,224.2 L337.4,224.3 L337.9,224.4 L338.4,224.5 L338.9,224.6 L339.5,224.7 L340.0,224.9 L340.5,225.0 L341.0,225.1 L341.5,225.2 L342.0,225.3 L342.5,225.5 L343.0,225.6 L343.5,225.7 L344.0,225.9 L344.5,226.0 L345.0,226.1 L345.5,226.3 L346.0,226.4 L346.5,226.6 L347.0,226.7 L347.5,226.9 L348.0,227.0 L348.5,227.2 L349.0,227.3 L349.5,227.5 L350.1,227.6 L350.6,227.8 L351.1,227.9 L351.6,228.1 L352.1,228.3 L352.6,228.4 L353.1,228.6 L353.6,228.8 L354.1,229.0 L354.6,229.2 L355.1,229.3 L355.6,229.5 L356.1,229.7 L356.6,229.9 L357.1,230.1 L357.6,230.3 L358.1,230.5 L358.7,230.7 L359.2,231.0 L359.7,231.2 L360.2,231.4 L360.7,231.6 L361.2,231.9 L361.7,232.1 L362.2,232.3 L362.7,232.6 L363.2,232.8 L363.7,233.1 L364.2,233.3 L364.7,233.6 L365.2,233.9 L365.7,234.2 L366.2,234.4 L366.7,234.7 L367.3,235.0 L367.8,235.3 L368.3,235.6 L368.8,235.9 L369.3,236.3 L369.8,236.6 L370.3,236.9 L370.8,237.2 L371.3,237.6 L371.8,237.9 L372.3,238.3 L372.9,238.7 L373.4,239.0 L373.9,239.4 L374.4,239.8 L374.9,240.2 L375.4,240.6 L375.9,241.0 L376.4,241.4 L376.9,241.8 L377.5,242.2 L378.0,242.7 L378.5,243.1 L379.0,243.6 L379.5,244.0 L380.0,244.5 L380.5,245.0 L381.0,245.4 L381.5,245.9 L382.0,246.4 L382.5,246.9 L383.1,247.4 L383.6,247.9 L384.1,248.4 L384.6,249.0 L385.1,249.5 L385.6,250.1 L386.1,250.7 L386.6,251.2 L387.1,251.8 L387.6,252.4 L388.1,253.1 L388.6,253.7 L389.1,254.3 L389.6,255.0 L390.1,255.7 L390.7,256.4 L391.2,257.1 L391.7,257.9 L392.2,258.7 L392.7,259.4 L393.3,260.2 L393.8,261.1 L394.3,261.9 L394.8,262.7 L395.4,263.6 L395.9,264.5 L396.4,265.4 L396.9,266.3 L397.4,267.2 L398.0,268.1 L398.5,269.1 L399.0,270.0 L399.5,271.0 L400.0,272.0 L400.5,273.0 L401.0,273.9 L401.6,274.9 L402.1,275.9 L402.6,276.9 L403.1,277.9 L403.6,279.0 L404.1,280.0 L404.6,281.0 L405.1,282.0 L405.6,283.0 L406.1,284.0 L406.6,285.1 L407.1,286.1 L407.6,287.1 L408.1,288.1 L408.6,289.1 L409.1,290.0 L409.6,291.0 L410.2,292.0 L410.7,292.9 L411.2,293.9 L411.7,294.8 L412.2,295.7 L412.7,296.7 L413.3,297.6 L413.8,298.4 L414.3,299.3 L414.8,300.2 L415.3,301.0 L415.8,301.8 L416.4,302.7 L416.9,303.5 L417.4,304.3 L417.9,305.0 L418.4,305.8 L418.9,306.5 L419.5,307.3 L420.0,308.0 L420.5,308.7 L421.0,309.4 L421.5,310.0 L422.0,310.7 L422.5,311.3 L423.0,311.9 L423.5,312.5 L424.0,313.1 L424.5,313.7 L425.0,314.2 L425.5,314.8 L426.0,315.3 L426.5,315.8 L427.0,316.3 L427.5,316.8 L428.1,317.2 L428.6,317.7 L429.1,318.1 L429.7,318.6 L430.2,319.0 L430.7,319.3 L431.3,319.7 L431.8,320.1 L432.3,320.4 L432.9,320.8 L433.4,321.1 L433.9,321.5 L434.5,321.8 L435.0,322.1 L435.5,322.4 L436.0,322.7 L436.5,323.0 L437.0,323.3 L437.5,323.6 L438.0,323.8 L438.5,324.1 L439.0,324.4 L439.5,324.7 L440.0,324.9 L440.5,325.2 L441.0,325.5 L441.5,325.7 L442.0,326.0 L442.5,326.2 L443.0,326.5 L443.5,326.7 L444.0,327.0 L444.6,327.2 L445.1,327.4 L445.6,327.6 L446.1,327.9 L446.6,328.1 L447.1,328.3 L447.6,328.5 L448.1,328.7 L448.6,328.9 L449.1,329.1 L449.6,329.3 L450.1,329.5 L450.6,329.7 L451.2,329.9 L451.7,330.1 L452.2,330.2 L452.7,330.4 L453.2,330.6 L453.7,330.7 L454.3,330.9 L454.8,331.1 L455.3,331.2 L455.8,331.4 L456.3,331.5 L456.9,331.7 L457.4,331.8 L457.9,332.0 L458.4,332.1 L458.9,332.3 L459.4,332.4 L460.0,332.6 L460.5,332.7 L461.0,332.8 L461.5,333.0 L462.0,333.1 L462.5,333.2 L463.1,333.4 L463.6,333.5 L464.1,333.6 L464.6,333.8 L465.1,333.9 L465.6,334.0 L466.2,334.2 L466.7,334.3 L467.2,334.4 L467.7,334.6 L468.2,334.7 L468.7,334.8 L469.2,335.0 L469.8,335.1 L470.3,335.2 L470.8,335.3 L471.3,335.5 L471.8,335.6 L472.3,335.7 L472.8,335.8 L473.4,336.0 L473.9,336.1 L474.4,336.2 L474.9,336.3 L475.4,336.4 L475.9,336.5 L476.4,336.6 L477.0,336.7 L477.5,336.8 L478.0,336.9 L478.5,337.1 L479.0,337.1 L479.5,337.2 L480.0,337.3 L480.6,337.4 L481.1,337.5 L481.6,337.6 L482.1,337.7 L482.6,337.8 L483.1,337.9 L483.6,337.9 L484.2,338.0 L484.7,338.1 L485.2,338.1 L485.7,338.2 L486.2,338.3 L486.7,338.3 L487.2,338.4 L487.7,338.5 L488.3,338.5 L488.8,338.6 L489.3,338.6 L489.8,338.7 L490.3,338.8 L490.8,338.8 L491.3,338.9 L491.8,338.9 L492.4,339.0 L492.9,339.0 L493.4,339.1 L493.9,339.1 L494.4,339.2 L494.9,339.2 L495.4,339.3 L495.9,339.3 L496.5,339.3 L497.0,339.4 L497.5,339.4 L498.0,339.5" fill="none" stroke="#F14040" stroke-width="1.1"/>
<path d="M297.2,216.3 L297.7,216.4 L298.2,216.4 L298.7,216.4 L299.2,216.5 L299.7,216.5 L300.2,216.5 L300.7,216.6 L301.2,216.6 L301.7,216.7 L302.2,216.7 L302.7,216.7 L303.2,216.8 L303.7,216.8 L304.2,216.9 L304.7,216.9 L305.2,216.9 L305.7,217.0 L306.2,217.0 L306.7,217.1 L307.2,217.1 L307.7,217.2 L308.2,217.2 L308.7,217.2 L309.2,217.3 L309.8,217.3 L310.3,217.4 L310.8,217.4 L311.3,217.5 L311.8,217.5 L312.3,217.5 L312.8,217.6 L313.3,217.6 L313.8,217.7 L314.3,217.7 L314.8,217.8 L315.3,217.8 L315.8,217.9 L316.3,217.9 L316.8,218.0 L317.3,218.0 L317.8,218.1 L318.3,218.1 L318.8,218.2 L319.3,218.2 L319.8,218.3 L320.3,218.3 L320.8,218.4 L321.3,218.4 L321.8,218.5 L322.3,218.5 L322.8,218.6 L323.3,218.6 L323.8,218.7 L324.3,218.7 L324.8,218.8 L325.3,218.9 L325.8,218.9 L326.3,219.0 L326.8,219.0 L327.3,219.1 L327.8,219.2 L328.4,219.2 L328.9,219.3 L329.4,219.3 L329.9,219.4 L330.4,219.5 L330.9,219.5 L331.4,219.6 L331.9,219.7 L332.4,219.7 L332.9,219.8 L333.4,219.9 L333.9,220.0 L334.4,220.0 L334.9,220.1 L335.4,220.2 L335.9,220.3 L336.4,220.4 L336.9,220.4 L337.4,220.5 L337.9,220.6 L338.4,220.7 L338.9,220.8 L339.5,220.9 L340.0,220.9 L340.5,221.0 L341.0,221.1 L341.5,221.2 L342.0,221.3 L342.5,221.4 L343.0,221.5 L343.5,221.6 L344.0,221.7 L344.5,221.8 L345.0,221.9 L345.5,222.0 L346.0,222.1 L346.5,222.3 L347.0,222.4 L347.5,222.5 L348.0,222.6 L348.5,222.7 L349.0,222.8 L349.5,223.0 L350.1,223.1 L350.6,223.2 L351.1,223.3 L351.6,223.5 L352.1,223.6 L352.6,223.7 L353.1,223.9 L353.6,224.0 L354.1,224.1 L354.6,224.3 L355.1,224.4 L355.6,224.6 L356.1,224.7 L356.6,224.9 L357.1,225.0 L357.6,225.2 L358.1,225.4 L358.7,225.5 L359.2,225.7 L359.7,225.9 L360.2,226.0 L360.7,226.2 L361.2,226.4 L361.7,226.6 L362.2,226.8 L362.7,227.0 L363.2,227.2 L363.7,227.4 L364.2,227.6 L364.7,227.8 L365.2,228.0 L365.7,228.2 L366.2,228.4 L366.7,228.6 L367.3,228.8 L367.8,229.1 L368.3,229.3 L368.8,229.5 L369.3,229.8 L369.8,230.0 L370.3,230.3 L370.8,230.5 L371.3,230.8 L371.8,231.0 L372.3,231.3 L372.9,231.6 L373.4,231.8 L373.9,232.1 L374.4,232.4 L374.9,232.7 L375.4,233.0 L375.9,233.3 L376.4,233.6 L376.9,233.9 L377.5,234.2 L378.0,234.5 L378.5,234.8 L379.0,235.1 L379.5,235.5 L380.0,235.8 L380.5,236.1 L381.0,236.5 L381.5,236.8 L382.1,237.2 L382.6,237.5 L383.1,237.9 L383.6,238.2 L384.1,238.6 L384.6,239.0 L385.1,239.4 L385.7,239.7 L386.2,240.1 L386.7,240.5 L387.2,240.9 L387.7,241.3 L388.2,241.7 L388.7,242.2 L389.3,242.6 L389.8,243.0 L390.3,243.5 L390.8,243.9 L391.3,244.4 L391.8,244.8 L392.3,245.3 L392.9,245.8 L393.4,246.3 L393.9,246.8 L394.4,247.3 L394.9,247.8 L395.4,248.4 L395.9,248.9 L396.4,249.5 L397.0,250.1 L397.5,250.7 L398.0,251.3 L398.5,252.0 L399.0,252.6 L399.5,253.3 L400.0,254.0 L400.5,254.7 L401.0,255.4 L401.6,256.1 L402.1,256.9 L402.6,257.7 L403.1,258.5 L403.6,259.3 L404.1,260.1 L404.6,260.9 L405.1,261.8 L405.6,262.6 L406.1,263.5 L406.6,264.4 L407.1,265.3 L407.6,266.2 L408.1,267.1 L408.6,268.1 L409.1,269.0 L409.6,270.0 L410.2,271.0 L410.7,271.9 L411.2,272.9 L411.7,273.9 L412.2,274.9 L412.7,275.9 L413.2,276.9 L413.7,278.0 L414.2,279.0 L414.7,280.0 L415.2,281.1 L415.7,282.1 L416.2,283.2 L416.8,284.2 L417.3,285.3 L417.8,286.3 L418.3,287.4 L418.8,288.5 L419.3,289.6 L419.8,290.6 L420.3,291.7 L420.8,292.7 L421.4,293.8 L421.9,294.9 L422.4,295.9 L422.9,296.9 L423.4,298.0 L423.9,299.0 L424.4,300.0 L424.9,301.0 L425.4,302.0 L426.0,302.9 L426.5,303.9 L427.0,304.8 L427.5,305.8 L428.0,306.7 L428.5,307.6 L429.0,308.5 L429.6,309.4 L430.1,310.2 L430.6,311.1 L431.1,311.9 L431.6,312.7 L432.2,313.5 L432.7,314.3 L433.2,315.1 L433.8,315.9 L434.3,316.6 L434.8,317.3 L435.4,318.0 L435.9,318.6 L436.4,319.2 L436.9,319.8 L437.5,320.4 L438.0,320.9 L438.5,321.4 L439.0,321.9 L439.5,322.3 L440.0,322.7 L440.5,323.1 L441.0,323.5 L441.5,323.8 L442.0,324.2 L442.5,324.5 L443.0,324.8 L443.5,325.1 L444.0,325.4 L444.5,325.6 L445.0,325.9 L445.6,326.1 L446.1,326.4 L446.6,326.6 L447.1,326.8 L447.6,327.0 L448.1,327.2 L448.6,327.4 L449.1,327.6 L449.6,327.8 L450.1,328.0 L450.6,328.1 L451.2,328.3 L451.7,328.5 L452.2,328.7 L452.7,328.9 L453.2,329.0 L453.7,329.2 L454.3,329.4 L454.8,329.5 L455.3,329.7 L455.8,329.9 L456.3,330.0 L456.9,330.2 L457.4,330.3 L457.9,330.5 L458.4,330.6 L458.9,330.8 L459.4,330.9 L460.0,331.1 L460.5,331.2 L461.0,331.3 L461.5,331.5 L462.0,331.6 L462.5,331.7 L463.1,331.9 L463.6,332.0 L464.1,332.1 L464.6,332.2 L465.1,332.3 L465.6,332.5 L466.1,332.6 L466.6,332.7 L467.1,332.8 L467.7,332.9 L468.2,333.0 L468.7,333.1 L469.2,333.2 L469.7,333.3 L470.2,333.4 L470.7,333.5 L471.2,333.6 L471.7,333.7 L472.3,333.8 L472.8,333.9 L473.3,334.0 L473.8,334.1 L474.3,334.1 L474.8,334.2 L475.3,334.3 L475.8,334.4 L476.3,334.5 L476.8,334.5 L477.4,334.6 L477.9,334.7 L478.4,334.8 L478.9,334.8 L479.4,334.9 L479.9,335.0 L480.4,335.0 L480.9,335.1 L481.4,335.2 L481.9,335.2 L482.5,335.3 L483.0,335.3 L483.5,335.4 L484.0,335.4 L484.5,335.5 L485.0,335.6 L485.5,335.6 L486.0,335.7 L486.6,335.7 L487.1,335.8 L487.6,335.8 L488.1,335.8 L488.6,335.9 L489.2,335.9 L489.7,336.0 L490.2,336.0 L490.7,336.1 L491.2,336.1 L491.8,336.1 L492.3,336.2 L492.8,336.2 L493.3,336.2 L493.8,336.3 L494.4,336.3 L494.9,336.4 L495.4,336.4 L495.9,336.4 L496.4,336.5 L497.0,336.5 L497.5,336.5 L498.0,336.6" fill="none" stroke="#515151" stroke-width="1.1"/>
<rect x="297.2" y="205.9" width="200.8" height="161.4" fill="none" stroke="#1a1a1a" stroke-width="1.3"/>
<line x1="294.20" y1="367.30" x2="297.20" y2="367.30" stroke="#1a1a1a" stroke-width="1.1" />
<text x="291.4" y="370.90000000000003" font-size="12.3" text-anchor="end" fill="#111" font-weight="bold"  stroke="#111">1</text>
<line x1="294.20" y1="323.70" x2="297.20" y2="323.70" stroke="#1a1a1a" stroke-width="1.1" />
<text x="291.4" y="327.3" font-size="12.3" text-anchor="end" fill="#111" font-weight="bold"  stroke="#111">10</text>
<line x1="294.20" y1="280.10" x2="297.20" y2="280.10" stroke="#1a1a1a" stroke-width="1.1" />
<text x="291.4" y="283.70000000000005" font-size="12.3" text-anchor="end" fill="#111" font-weight="bold"  stroke="#111">100</text>
<line x1="294.20" y1="236.50" x2="297.20" y2="236.50" stroke="#1a1a1a" stroke-width="1.1" />
<text x="291.4" y="240.1" font-size="12.3" text-anchor="end" fill="#111" font-weight="bold"  stroke="#111">1000</text>
<line x1="295.40" y1="354.18" x2="297.20" y2="354.18" stroke="#1a1a1a" stroke-width="0.8" />
<line x1="295.40" y1="346.50" x2="297.20" y2="346.50" stroke="#1a1a1a" stroke-width="0.8" />
<line x1="295.40" y1="341.05" x2="297.20" y2="341.05" stroke="#1a1a1a" stroke-width="0.8" />
<line x1="295.40" y1="336.82" x2="297.20" y2="336.82" stroke="#1a1a1a" stroke-width="0.8" />
<line x1="295.40" y1="333.37" x2="297.20" y2="333.37" stroke="#1a1a1a" stroke-width="0.8" />
<line x1="295.40" y1="330.45" x2="297.20" y2="330.45" stroke="#1a1a1a" stroke-width="0.8" />
<line x1="295.40" y1="327.93" x2="297.20" y2="327.93" stroke="#1a1a1a" stroke-width="0.8" />
<line x1="295.40" y1="325.70" x2="297.20" y2="325.70" stroke="#1a1a1a" stroke-width="0.8" />
<line x1="295.40" y1="310.58" x2="297.20" y2="310.58" stroke="#1a1a1a" stroke-width="0.8" />
<line x1="295.40" y1="302.90" x2="297.20" y2="302.90" stroke="#1a1a1a" stroke-width="0.8" />
<line x1="295.40" y1="297.45" x2="297.20" y2="297.45" stroke="#1a1a1a" stroke-width="0.8" />
<line x1="295.40" y1="293.22" x2="297.20" y2="293.22" stroke="#1a1a1a" stroke-width="0.8" />
<line x1="295.40" y1="289.77" x2="297.20" y2="289.77" stroke="#1a1a1a" stroke-width="0.8" />
<line x1="295.40" y1="286.85" x2="297.20" y2="286.85" stroke="#1a1a1a" stroke-width="0.8" />
<line x1="295.40" y1="284.33" x2="297.20" y2="284.33" stroke="#1a1a1a" stroke-width="0.8" />
<line x1="295.40" y1="282.10" x2="297.20" y2="282.10" stroke="#1a1a1a" stroke-width="0.8" />
<line x1="295.40" y1="266.98" x2="297.20" y2="266.98" stroke="#1a1a1a" stroke-width="0.8" />
<line x1="295.40" y1="259.30" x2="297.20" y2="259.30" stroke="#1a1a1a" stroke-width="0.8" />
<line x1="295.40" y1="253.85" x2="297.20" y2="253.85" stroke="#1a1a1a" stroke-width="0.8" />
<line x1="295.40" y1="249.62" x2="297.20" y2="249.62" stroke="#1a1a1a" stroke-width="0.8" />
<line x1="295.40" y1="246.17" x2="297.20" y2="246.17" stroke="#1a1a1a" stroke-width="0.8" />
<line x1="295.40" y1="243.25" x2="297.20" y2="243.25" stroke="#1a1a1a" stroke-width="0.8" />
<line x1="295.40" y1="240.73" x2="297.20" y2="240.73" stroke="#1a1a1a" stroke-width="0.8" />
<line x1="295.40" y1="238.50" x2="297.20" y2="238.50" stroke="#1a1a1a" stroke-width="0.8" />
<line x1="295.40" y1="223.38" x2="297.20" y2="223.38" stroke="#1a1a1a" stroke-width="0.8" />
<line x1="295.40" y1="215.70" x2="297.20" y2="215.70" stroke="#1a1a1a" stroke-width="0.8" />
<line x1="295.40" y1="210.25" x2="297.20" y2="210.25" stroke="#1a1a1a" stroke-width="0.8" />
<line x1="295.40" y1="206.02" x2="297.20" y2="206.02" stroke="#1a1a1a" stroke-width="0.8" />
<line x1="311.54" y1="367.30" x2="311.54" y2="370.30" stroke="#1a1a1a" stroke-width="1.1" />
<text x="311.54285714285714" y="383.2" font-size="12.3" text-anchor="middle" fill="#111" font-weight="bold"  stroke="#111">&#8722;60</text>
<line x1="340.23" y1="367.30" x2="340.23" y2="370.30" stroke="#1a1a1a" stroke-width="1.1" />
<text x="340.2285714285714" y="383.2" font-size="12.3" text-anchor="middle" fill="#111" font-weight="bold"  stroke="#111">&#8722;40</text>
<line x1="368.91" y1="367.30" x2="368.91" y2="370.30" stroke="#1a1a1a" stroke-width="1.1" />
<text x="368.9142857142857" y="383.2" font-size="12.3" text-anchor="middle" fill="#111" font-weight="bold"  stroke="#111">&#8722;20</text>
<line x1="397.60" y1="367.30" x2="397.60" y2="370.30" stroke="#1a1a1a" stroke-width="1.1" />
<text x="397.6" y="383.2" font-size="12.3" text-anchor="middle" fill="#111" font-weight="bold"  stroke="#111">0</text>
<line x1="426.29" y1="367.30" x2="426.29" y2="370.30" stroke="#1a1a1a" stroke-width="1.1" />
<text x="426.2857142857143" y="383.2" font-size="12.3" text-anchor="middle" fill="#111" font-weight="bold"  stroke="#111">20</text>
<line x1="454.97" y1="367.30" x2="454.97" y2="370.30" stroke="#1a1a1a" stroke-width="1.1" />
<text x="454.97142857142853" y="383.2" font-size="12.3" text-anchor="middle" fill="#111" font-weight="bold"  stroke="#111">40</text>
<line x1="483.66" y1="367.30" x2="483.66" y2="370.30" stroke="#1a1a1a" stroke-width="1.1" />
<text x="483.65714285714284" y="383.2" font-size="12.3" text-anchor="middle" fill="#111" font-weight="bold"  stroke="#111">60</text>
<line x1="325.89" y1="367.30" x2="325.89" y2="369.30" stroke="#1a1a1a" stroke-width="1.0" />
<line x1="354.57" y1="367.30" x2="354.57" y2="369.30" stroke="#1a1a1a" stroke-width="1.0" />
<line x1="383.26" y1="367.30" x2="383.26" y2="369.30" stroke="#1a1a1a" stroke-width="1.0" />
<line x1="411.94" y1="367.30" x2="411.94" y2="369.30" stroke="#1a1a1a" stroke-width="1.0" />
<line x1="440.63" y1="367.30" x2="440.63" y2="369.30" stroke="#1a1a1a" stroke-width="1.0" />
<line x1="469.31" y1="367.30" x2="469.31" y2="369.30" stroke="#1a1a1a" stroke-width="1.0" />
<text x="398" y="398" font-size="13.8" text-anchor="middle" fill="#111" font-weight="bold"  stroke="#111">Temperature (&#176;C)</text>
<text font-size="13.3" font-weight="bold" fill="#111" stroke="#111" text-anchor="middle" transform="translate(271,286.5) rotate(-90)">E' (MPa)</text>
<text x="264.9" y="213.2" font-size="21" text-anchor="start" fill="#111" font-weight="bold"  stroke="#111">(c)</text>
<line x1="414.50" y1="214.10" x2="438.50" y2="214.10" stroke="#515151" stroke-width="1.1" />
<text x="441.8" y="217.7" font-size="10.75" text-anchor="start" fill="#111" font-weight="bold"  stroke="#111">PU<tspan font-size="7.1" dy="3.2" stroke-width="0.05">650</tspan><tspan dy="-3.2">-7</tspan></text>
<line x1="414.50" y1="229.95" x2="438.50" y2="229.95" stroke="#F14040" stroke-width="1.1" />
<text x="441.8" y="233.54999999999998" font-size="10.75" text-anchor="start" fill="#111" font-weight="bold"  stroke="#111">PU<tspan font-size="7.1" dy="3.2" stroke-width="0.05">650</tspan><tspan dy="-3.2">-7(6/9)</tspan></text>
<line x1="414.50" y1="245.80" x2="438.50" y2="245.80" stroke="#1A6FDF" stroke-width="1.1" />
<text x="441.8" y="249.39999999999998" font-size="10.75" text-anchor="start" fill="#111" font-weight="bold"  stroke="#111">PU<tspan font-size="7.1" dy="3.2" stroke-width="0.05">650</tspan><tspan dy="-3.2">-7(2/9)</tspan></text>
<line x1="414.50" y1="261.65" x2="438.50" y2="261.65" stroke="#37AD6B" stroke-width="1.1" />
<text x="441.8" y="265.25" font-size="10.75" text-anchor="start" fill="#111" font-weight="bold"  stroke="#111">PU<tspan font-size="7.1" dy="3.2" stroke-width="0.05">650</tspan><tspan dy="-3.2">-7(0/9)</tspan></text>
<path d="M55.0,574.4 L55.6,573.1 L56.2,572.0 L56.8,571.1 L57.4,570.4 L58.0,569.9 L58.6,569.6 L59.1,569.3 L59.6,569.0 L60.1,568.8 L60.6,568.6 L61.1,568.4 L61.6,568.2 L62.1,568.1 L62.6,567.9 L63.1,567.8 L63.6,567.6 L64.1,567.5 L64.6,567.4 L65.1,567.3 L65.6,567.2 L66.1,567.1 L66.6,567.0 L67.1,566.9 L67.6,566.8 L68.1,566.7 L68.6,566.6 L69.1,566.5 L69.6,566.4 L70.1,566.4 L70.6,566.3 L71.1,566.2 L71.6,566.1 L72.1,566.0 L72.6,565.9 L73.1,565.7 L73.6,565.6 L74.2,565.5 L74.7,565.4 L75.2,565.3 L75.7,565.2 L76.2,565.1 L76.7,565.0 L77.2,564.9 L77.7,564.8 L78.2,564.6 L78.7,564.5 L79.2,564.4 L79.7,564.3 L80.2,564.1 L80.7,564.0 L81.2,563.9 L81.7,563.8 L82.2,563.6 L82.7,563.5 L83.3,563.4 L83.8,563.2 L84.3,563.1 L84.8,562.9 L85.3,562.8 L85.8,562.7 L86.3,562.5 L86.8,562.4 L87.4,562.2 L87.9,562.1 L88.4,561.9 L88.9,561.8 L89.4,561.6 L89.9,561.5 L90.4,561.3 L90.9,561.1 L91.5,561.0 L92.0,560.8 L92.5,560.7 L93.0,560.5 L93.5,560.3 L94.0,560.2 L94.5,560.0 L95.0,559.8 L95.6,559.7 L96.1,559.5 L96.6,559.3 L97.1,559.2 L97.6,559.0 L98.1,558.8 L98.6,558.6 L99.1,558.5 L99.7,558.3 L100.2,558.1 L100.7,557.9 L101.2,557.8 L101.7,557.6 L102.2,557.4 L102.7,557.2 L103.2,557.0 L103.8,556.9 L104.3,556.7 L104.8,556.5 L105.3,556.3 L105.8,556.1 L106.3,555.9 L106.8,555.7 L107.3,555.6 L107.9,555.4 L108.4,555.2 L108.9,555.0 L109.4,554.8 L109.9,554.6 L110.4,554.4 L110.9,554.2 L111.4,554.0 L112.0,553.8 L112.5,553.6 L113.0,553.4 L113.5,553.2 L114.0,553.0 L114.5,552.8 L115.0,552.6 L115.5,552.4 L116.1,552.2 L116.6,552.0 L117.1,551.8 L117.6,551.6 L118.1,551.4 L118.6,551.1 L119.1,550.9 L119.6,550.7 L120.1,550.5 L120.6,550.3 L121.1,550.1 L121.6,549.9 L122.1,549.7 L122.6,549.4 L123.1,549.2 L123.6,549.0 L124.1,548.8 L124.6,548.6 L125.1,548.3 L125.6,548.1 L126.1,547.9 L126.6,547.7 L127.1,547.5 L127.6,547.2 L128.1,547.0 L128.6,546.8 L129.1,546.6 L129.6,546.3 L130.1,546.1 L130.6,545.9 L131.1,545.7 L131.6,545.4 L132.1,545.2 L132.6,545.0 L133.1,544.7 L133.6,544.5 L134.1,544.3 L134.6,544.0 L135.1,543.8 L135.6,543.6 L136.1,543.3 L136.6,543.1 L137.2,542.9 L137.7,542.6 L138.2,542.4 L138.7,542.2 L139.2,541.9 L139.7,541.7 L140.2,541.4 L140.7,541.2 L141.2,541.0 L141.7,540.7 L142.2,540.5 L142.7,540.2 L143.2,540.0 L143.7,539.7 L144.2,539.5 L144.7,539.3 L145.2,539.0 L145.7,538.8 L146.2,538.5 L146.7,538.3 L147.2,538.0 L147.7,537.7 L148.2,537.5 L148.7,537.2 L149.3,537.0 L149.8,536.7 L150.3,536.4 L150.8,536.2 L151.4,535.9 L151.9,535.6 L152.4,535.3 L152.9,535.1 L153.5,534.8 L154.0,534.5 L154.5,534.2 L155.0,533.9 L155.5,533.7 L156.1,533.4 L156.6,533.1 L157.1,532.8 L157.6,532.5 L158.2,532.3 L158.7,532.0 L159.0,531.6 L159.1,538.4" fill="none" stroke="#515151" stroke-width="1.1"/>
<path d="M55.0,574.4 L55.6,572.9 L56.2,571.6 L56.7,570.6 L57.2,569.9 L57.7,569.3 L58.3,568.9 L58.8,568.6 L59.3,568.3 L59.8,568.1 L60.4,567.8 L60.9,567.5 L61.4,567.3 L61.9,567.0 L62.4,566.7 L62.9,566.5 L63.5,566.2 L64.0,565.9 L64.5,565.6 L65.0,565.4 L65.5,565.1 L66.0,564.9 L66.6,564.6 L67.1,564.4 L67.6,564.1 L68.1,563.9 L68.6,563.7 L69.1,563.5 L69.6,563.3 L70.1,563.1 L70.6,562.9 L71.1,562.7 L71.6,562.5 L72.1,562.3 L72.6,562.1 L73.1,561.9 L73.6,561.8 L74.2,561.6 L74.7,561.5 L75.2,561.3 L75.7,561.1 L76.2,561.0 L76.7,560.8 L77.2,560.7 L77.7,560.5 L78.2,560.4 L78.7,560.2 L79.2,560.1 L79.7,559.9 L80.2,559.8 L80.7,559.6 L81.2,559.5 L81.7,559.3 L82.2,559.1 L82.7,559.0 L83.3,558.8 L83.8,558.6 L84.3,558.5 L84.8,558.3 L85.3,558.1 L85.8,558.0 L86.3,557.8 L86.8,557.6 L87.4,557.4 L87.9,557.2 L88.4,557.1 L88.9,556.9 L89.4,556.7 L89.9,556.5 L90.4,556.3 L90.9,556.1 L91.5,555.9 L92.0,555.7 L92.5,555.5 L93.0,555.3 L93.5,555.1 L94.0,554.9 L94.5,554.7 L95.0,554.5 L95.6,554.3 L96.1,554.1 L96.6,553.9 L97.1,553.6 L97.6,553.4 L98.1,553.2 L98.6,553.0 L99.1,552.8 L99.7,552.5 L100.2,552.3 L100.7,552.1 L101.2,551.9 L101.7,551.6 L102.2,551.4 L102.7,551.2 L103.2,550.9 L103.8,550.7 L104.3,550.4 L104.8,550.2 L105.3,549.9 L105.8,549.7 L106.3,549.5 L106.8,549.2 L107.3,549.0 L107.9,548.7 L108.4,548.5 L108.9,548.2 L109.4,547.9 L109.9,547.7 L110.4,547.4 L110.9,547.2 L111.4,546.9 L112.0,546.6 L112.5,546.4 L113.0,546.1 L113.5,545.8 L114.0,545.6 L114.5,545.3 L115.0,545.0 L115.5,544.8 L116.1,544.5 L116.6,544.2 L117.1,544.0 L117.6,543.7 L118.1,543.4 L118.6,543.2 L119.1,542.9 L119.6,542.6 L120.1,542.3 L120.6,542.1 L121.1,541.8 L121.6,541.5 L122.1,541.2 L122.6,541.0 L123.1,540.7 L123.6,540.4 L124.1,540.1 L124.6,539.8 L125.1,539.5 L125.6,539.2 L126.1,539.0 L126.6,538.7 L127.1,538.4 L127.6,538.1 L128.1,537.8 L128.6,537.5 L129.1,537.2 L129.6,536.9 L130.1,536.6 L130.6,536.3 L131.1,536.0 L131.6,535.7 L132.1,535.3 L132.6,535.0 L133.1,534.7 L133.6,534.4 L134.1,534.1 L134.6,533.8 L135.1,533.4 L135.6,533.1 L136.1,532.8 L136.6,532.5 L137.2,532.1 L137.7,531.8 L138.2,531.4 L138.7,531.1 L139.2,530.8 L139.7,530.4 L140.2,530.1 L140.7,529.7 L141.2,529.4 L141.7,529.0 L142.2,528.6 L142.7,528.3 L143.2,527.9 L143.7,527.5 L144.2,527.1 L144.7,526.7 L145.2,526.4 L145.7,526.0 L146.2,525.6 L146.7,525.2 L147.2,524.7 L147.7,524.3 L148.2,523.9 L148.7,523.5 L149.3,523.1 L149.8,522.6 L150.3,522.2 L150.8,521.7 L151.3,521.3 L151.8,520.8 L152.3,520.3 L152.8,519.9 L153.3,519.4 L153.8,518.9 L154.4,518.4 L154.9,517.9 L155.4,517.3 L155.9,516.8 L156.4,516.3 L156.9,515.7 L157.4,515.2 L157.9,514.6 L158.4,514.0 L159.0,513.4 L159.5,512.8 L160.0,512.2 L160.5,511.5 L161.0,510.9 L161.5,510.2 L162.0,509.6 L162.6,508.9 L163.1,508.2 L163.6,507.5 L164.1,506.8 L164.6,506.1 L165.1,505.3 L165.6,504.6 L166.2,503.9 L166.7,503.1 L167.2,502.3 L167.7,501.6 L168.2,500.8 L168.7,500.0 L169.3,499.2 L169.8,498.4 L170.3,497.7 L170.8,496.9 L171.3,496.1 L171.8,495.2 L172.3,494.4 L172.9,493.6 L173.4,492.8 L173.9,492.0 L174.4,491.1 L174.9,490.3 L175.4,489.5 L176.0,488.6 L176.5,487.8 L177.0,487.0 L177.5,486.1 L178.0,485.3 L178.5,484.4 L179.0,483.5 L179.6,482.7 L180.1,481.8 L180.6,480.9 L181.2,480.0 L181.7,479.1 L182.3,478.2 L182.8,477.3 L183.3,476.3 L183.9,475.4 L184.4,474.5 L185.0,473.6 L185.5,472.7 L186.0,471.8 L186.2,471.0 L186.3,478.2" fill="none" stroke="#F14040" stroke-width="1.1"/>
<path d="M55.0,574.4 L55.6,572.5 L56.2,570.8 L56.7,569.5 L57.2,568.5 L57.7,567.8 L58.3,567.2 L58.8,566.7 L59.3,566.3 L59.8,566.0 L60.4,565.6 L60.9,565.3 L61.4,565.0 L61.9,564.7 L62.4,564.4 L62.9,564.1 L63.5,563.9 L64.0,563.6 L64.5,563.4 L65.0,563.1 L65.5,562.9 L66.0,562.7 L66.6,562.5 L67.1,562.3 L67.6,562.1 L68.1,561.9 L68.6,561.7 L69.1,561.5 L69.6,561.3 L70.1,561.1 L70.6,561.0 L71.1,560.8 L71.6,560.6 L72.1,560.4 L72.6,560.3 L73.1,560.1 L73.6,559.9 L74.2,559.7 L74.7,559.6 L75.2,559.4 L75.7,559.2 L76.2,559.1 L76.7,558.9 L77.2,558.8 L77.7,558.6 L78.2,558.4 L78.7,558.3 L79.2,558.1 L79.7,557.9 L80.2,557.8 L80.7,557.6 L81.2,557.4 L81.7,557.3 L82.2,557.1 L82.7,556.9 L83.3,556.7 L83.8,556.6 L84.3,556.4 L84.8,556.2 L85.3,556.0 L85.8,555.8 L86.3,555.7 L86.8,555.5 L87.4,555.3 L87.9,555.1 L88.4,554.9 L88.9,554.7 L89.4,554.6 L89.9,554.4 L90.4,554.2 L90.9,554.0 L91.5,553.8 L92.0,553.6 L92.5,553.4 L93.0,553.2 L93.5,553.0 L94.0,552.8 L94.5,552.6 L95.0,552.4 L95.6,552.2 L96.1,552.0 L96.6,551.8 L97.1,551.6 L97.6,551.4 L98.1,551.2 L98.6,551.0 L99.1,550.8 L99.7,550.5 L100.2,550.3 L100.7,550.1 L101.2,549.9 L101.7,549.7 L102.2,549.5 L102.7,549.3 L103.2,549.0 L103.8,548.8 L104.3,548.6 L104.8,548.4 L105.3,548.2 L105.8,547.9 L106.3,547.7 L106.8,547.5 L107.3,547.3 L107.9,547.0 L108.4,546.8 L108.9,546.6 L109.4,546.4 L109.9,546.1 L110.4,545.9 L110.9,545.7 L111.4,545.4 L112.0,545.2 L112.5,545.0 L113.0,544.7 L113.5,544.5 L114.0,544.3 L114.5,544.0 L115.0,543.8 L115.5,543.5 L116.1,543.3 L116.6,543.1 L117.1,542.8 L117.6,542.6 L118.1,542.3 L118.6,542.1 L119.1,541.9 L119.6,541.6 L120.1,541.4 L120.6,541.1 L121.1,540.9 L121.6,540.6 L122.1,540.4 L122.6,540.1 L123.1,539.9 L123.6,539.6 L124.1,539.4 L124.6,539.1 L125.1,538.9 L125.6,538.6 L126.1,538.4 L126.6,538.1 L127.1,537.8 L127.6,537.6 L128.1,537.3 L128.6,537.1 L129.1,536.8 L129.6,536.5 L130.1,536.3 L130.6,536.0 L131.1,535.7 L131.6,535.5 L132.1,535.2 L132.6,534.9 L133.1,534.7 L133.6,534.4 L134.1,534.1 L134.6,533.9 L135.1,533.6 L135.6,533.3 L136.1,533.0 L136.6,532.7 L137.2,532.5 L137.7,532.2 L138.2,531.9 L138.7,531.6 L139.2,531.3 L139.7,531.1 L140.2,530.8 L140.7,530.5 L141.2,530.2 L141.7,529.9 L142.2,529.6 L142.7,529.4 L143.2,529.1 L143.7,528.8 L144.2,528.5 L144.7,528.2 L145.2,527.9 L145.7,527.6 L146.2,527.4 L146.7,527.1 L147.2,526.8 L147.7,526.5 L148.2,526.2 L148.7,525.9 L149.3,525.6 L149.8,525.3 L150.3,525.1 L150.8,524.8 L151.3,524.5 L151.8,524.2 L152.3,523.9 L152.8,523.6 L153.3,523.3 L153.8,523.0 L154.3,522.7 L154.8,522.4 L155.4,522.1 L155.9,521.9 L156.4,521.6 L156.9,521.3 L157.4,521.0 L157.9,520.7 L158.4,520.4 L158.9,520.1 L159.4,519.8 L159.9,519.5 L160.4,519.2 L161.0,518.9 L161.5,518.6 L162.0,518.3 L162.5,518.0 L163.0,517.7 L163.5,517.3 L164.0,517.0 L164.5,516.7 L165.0,516.4 L165.5,516.1 L166.0,515.8 L166.5,515.5 L167.0,515.2 L167.5,514.8 L168.0,514.5 L168.5,514.2 L169.0,513.9 L169.5,513.5 L170.0,513.2 L170.5,512.9 L171.0,512.5 L171.5,512.2 L172.0,511.8 L172.5,511.5 L173.0,511.1 L173.5,510.8 L174.0,510.4 L174.5,510.0 L175.0,509.7 L175.5,509.3 L176.0,508.9 L176.5,508.5 L177.1,508.1 L177.6,507.7 L178.1,507.3 L178.6,506.9 L179.1,506.5 L179.6,506.1 L180.1,505.7 L180.6,505.3 L181.1,504.8 L181.6,504.4 L182.1,503.9 L182.6,503.5 L183.1,503.0 L183.7,502.6 L184.2,502.1 L184.7,501.6 L185.2,501.1 L185.7,500.7 L186.2,500.2 L186.7,499.7 L187.2,499.2 L187.7,498.7 L188.3,498.2 L188.8,497.6 L189.3,497.1 L189.8,496.6 L190.3,496.1 L190.8,495.5 L191.3,495.0 L191.8,494.5 L192.3,493.9 L192.9,493.3 L193.4,492.8 L193.9,492.2 L194.4,491.7 L194.9,491.1 L195.4,490.5 L195.9,489.9 L196.4,489.3 L197.0,488.7 L197.5,488.1 L198.0,487.5 L198.5,486.9 L199.0,486.3 L199.5,485.7 L200.0,485.1 L200.5,484.5 L201.0,483.8 L201.6,483.2 L202.1,482.6 L202.6,482.0 L203.1,481.3 L203.6,480.7 L204.1,480.0 L204.6,479.4 L205.1,478.8 L205.6,478.1 L206.2,477.5 L206.7,476.8 L207.2,476.2 L207.7,475.6 L208.2,474.9 L208.7,474.3 L209.2,473.7 L209.7,473.0 L210.2,472.4 L210.8,471.8 L211.3,471.2 L211.8,470.5 L212.3,469.9 L212.8,469.3 L213.3,468.7 L213.8,468.1 L214.3,467.5 L214.8,466.9 L215.4,466.3 L215.9,465.8 L216.4,465.2 L216.9,464.6 L217.4,464.1 L217.9,463.5 L218.5,462.9 L219.0,462.4 L219.5,461.9 L220.0,461.3 L220.5,460.8 L221.0,460.2 L221.5,459.7 L222.1,459.2 L222.6,458.7 L223.1,458.1 L223.6,457.6 L224.1,457.1 L224.6,456.6 L225.2,456.1 L225.7,455.5 L226.2,455.0 L226.7,454.5 L227.2,454.0 L227.5,453.2 L227.7,461.3" fill="none" stroke="#37AD6B" stroke-width="1.1"/>
<path d="M55.0,574.4 L55.6,573.1 L56.2,572.0 L56.7,571.2 L57.2,570.6 L57.7,570.2 L58.3,569.9 L58.8,569.7 L59.3,569.6 L59.8,569.4 L60.4,569.2 L60.9,569.0 L61.4,568.9 L61.9,568.7 L62.4,568.5 L62.9,568.3 L63.5,568.1 L64.0,567.9 L64.5,567.7 L65.0,567.5 L65.5,567.3 L66.0,567.1 L66.6,566.9 L67.1,566.7 L67.6,566.5 L68.1,566.3 L68.6,566.1 L69.1,566.0 L69.6,565.8 L70.1,565.7 L70.6,565.5 L71.1,565.4 L71.6,565.2 L72.1,565.1 L72.6,565.0 L73.1,564.8 L73.6,564.7 L74.2,564.6 L74.7,564.4 L75.2,564.3 L75.7,564.2 L76.2,564.1 L76.7,564.0 L77.2,563.8 L77.7,563.7 L78.2,563.6 L78.7,563.5 L79.2,563.4 L79.7,563.3 L80.2,563.1 L80.7,563.0 L81.2,562.9 L81.7,562.8 L82.2,562.6 L82.7,562.5 L83.3,562.4 L83.8,562.2 L84.3,562.1 L84.8,561.9 L85.3,561.8 L85.8,561.6 L86.3,561.5 L86.8,561.3 L87.4,561.2 L87.9,561.0 L88.4,560.9 L88.9,560.7 L89.4,560.5 L89.9,560.4 L90.4,560.2 L90.9,560.1 L91.5,559.9 L92.0,559.7 L92.5,559.5 L93.0,559.4 L93.5,559.2 L94.0,559.0 L94.5,558.9 L95.0,558.7 L95.6,558.5 L96.1,558.3 L96.6,558.2 L97.1,558.0 L97.6,557.8 L98.1,557.6 L98.6,557.4 L99.1,557.3 L99.7,557.1 L100.2,556.9 L100.7,556.7 L101.2,556.5 L101.7,556.3 L102.2,556.2 L102.7,556.0 L103.2,555.8 L103.8,555.6 L104.3,555.4 L104.8,555.2 L105.3,555.0 L105.8,554.8 L106.3,554.7 L106.8,554.5 L107.3,554.3 L107.9,554.1 L108.4,553.9 L108.9,553.7 L109.4,553.5 L109.9,553.3 L110.4,553.1 L110.9,552.9 L111.4,552.7 L112.0,552.5 L112.5,552.4 L113.0,552.2 L113.5,552.0 L114.0,551.8 L114.5,551.6 L115.0,551.4 L115.5,551.2 L116.1,551.0 L116.6,550.8 L117.1,550.6 L117.6,550.4 L118.1,550.2 L118.6,550.0 L119.1,549.8 L119.6,549.6 L120.1,549.4 L120.6,549.2 L121.1,549.0 L121.6,548.8 L122.1,548.6 L122.6,548.4 L123.1,548.1 L123.6,547.9 L124.1,547.7 L124.6,547.5 L125.1,547.3 L125.6,547.1 L126.1,546.9 L126.6,546.6 L127.1,546.4 L127.6,546.2 L128.1,546.0 L128.6,545.7 L129.1,545.5 L129.6,545.3 L130.1,545.0 L130.6,544.8 L131.1,544.5 L131.6,544.3 L132.1,544.0 L132.6,543.8 L133.1,543.5 L133.6,543.3 L134.1,543.0 L134.6,542.8 L135.1,542.5 L135.6,542.2 L136.1,542.0 L136.6,541.7 L137.2,541.4 L137.7,541.2 L138.2,540.9 L138.7,540.6 L139.2,540.3 L139.7,540.1 L140.2,539.8 L140.7,539.5 L141.2,539.3 L141.7,539.0 L142.2,538.7 L142.7,538.5 L143.2,538.2 L143.7,538.0 L144.2,537.7 L144.7,537.5 L145.2,537.2 L145.7,537.0 L146.2,536.7 L146.7,536.5 L147.2,536.3 L147.7,536.0 L148.2,535.8 L148.7,535.6 L149.3,535.4 L149.8,535.2 L150.3,535.0 L150.8,534.8 L151.3,534.6 L151.8,534.5 L152.3,534.3 L152.8,534.1 L153.3,533.9 L153.8,533.7 L154.4,533.6 L154.9,533.4 L155.4,533.2 L155.9,533.1 L156.4,532.9 L156.9,532.7 L157.4,532.5 L157.9,532.3 L158.4,532.2 L159.0,532.0 L159.5,531.8 L160.0,531.6 L160.5,531.4 L161.0,531.2 L161.5,531.0 L162.0,530.7 L162.5,530.5 L163.0,530.3 L163.5,530.1 L164.0,529.8 L164.5,529.6 L165.0,529.3 L165.5,529.1 L166.0,528.8 L166.5,528.5 L167.0,528.3 L167.5,528.0 L168.0,527.7 L168.5,527.4 L169.0,527.1 L169.5,526.8 L170.0,526.5 L170.5,526.2 L171.0,525.9 L171.5,525.6 L172.0,525.3 L172.5,524.9 L173.0,524.6 L173.5,524.3 L174.0,523.9 L174.5,523.6 L175.0,523.2 L175.5,522.9 L176.0,522.5 L176.5,522.1 L177.0,521.8 L177.6,521.4 L178.1,521.0 L178.6,520.6 L179.1,520.3 L179.6,519.9 L180.1,519.5 L180.6,519.0 L181.1,518.6 L181.6,518.2 L182.1,517.8 L182.6,517.4 L183.1,516.9 L183.7,516.5 L184.2,516.1 L184.7,515.6 L185.2,515.2 L185.7,514.7 L186.2,514.3 L186.7,513.8 L187.2,513.3 L187.7,512.9 L188.3,512.4 L188.8,511.9 L189.3,511.5 L189.8,511.0 L190.3,510.5 L190.8,510.0 L191.3,509.6 L191.8,509.1 L192.3,508.6 L192.9,508.1 L193.4,507.6 L193.9,507.1 L194.4,506.6 L194.9,506.1 L195.4,505.6 L195.9,505.1 L196.4,504.6 L197.0,504.1 L197.5,503.6 L198.0,503.1 L198.5,502.6 L199.0,502.1 L199.5,501.6 L200.0,501.1 L200.5,500.6 L201.0,500.0 L201.6,499.5 L202.1,499.0 L202.6,498.5 L203.1,498.0 L203.6,497.4 L204.1,496.9 L204.6,496.4 L205.1,495.9 L205.6,495.3 L206.2,494.8 L206.7,494.2 L207.2,493.7 L207.7,493.1 L208.2,492.6 L208.7,492.0 L209.2,491.4 L209.7,490.9 L210.2,490.3 L210.8,489.7 L211.3,489.1 L211.8,488.5 L212.3,487.9 L212.8,487.3 L213.3,486.6 L213.8,486.0 L214.3,485.4 L214.8,484.7 L215.3,484.1 L215.9,483.4 L216.4,482.7 L216.9,482.0 L217.4,481.4 L217.9,480.6 L218.4,479.9 L218.9,479.2 L219.4,478.4 L219.9,477.6 L220.4,476.8 L220.9,476.0 L221.4,475.2 L221.9,474.3 L222.4,473.4 L223.0,472.5 L223.5,471.6 L224.0,470.6 L224.5,469.6 L225.0,468.6 L225.5,467.5 L226.0,466.4 L226.5,465.3 L227.0,464.1 L227.5,462.9 L228.0,461.6 L228.5,460.3 L229.1,459.0 L229.6,457.6 L230.1,456.2 L230.6,454.8 L231.1,453.4 L231.6,451.9 L232.2,450.4 L232.7,448.9 L233.2,447.3 L233.7,445.8 L234.2,444.2 L234.7,442.6 L235.2,441.0 L235.8,439.4 L236.3,437.8 L236.8,436.2 L237.3,434.6 L237.7,432.6 L237.9,440.7" fill="none" stroke="#1A6FDF" stroke-width="1.1"/>
<rect x="55.0" y="412.8" width="201.60000000000002" height="161.59999999999997" fill="none" stroke="#1a1a1a" stroke-width="1.3"/>
<line x1="52.00" y1="574.40" x2="55.00" y2="574.40" stroke="#1a1a1a" stroke-width="1.1" />
<text x="49.0" y="578.0" font-size="12.3" text-anchor="end" fill="#111" font-weight="bold"  stroke="#111">0</text>
<line x1="52.00" y1="534.00" x2="55.00" y2="534.00" stroke="#1a1a1a" stroke-width="1.1" />
<text x="49.0" y="537.6" font-size="12.3" text-anchor="end" fill="#111" font-weight="bold"  stroke="#111">10</text>
<line x1="52.00" y1="493.60" x2="55.00" y2="493.60" stroke="#1a1a1a" stroke-width="1.1" />
<text x="49.0" y="497.20000000000005" font-size="12.3" text-anchor="end" fill="#111" font-weight="bold"  stroke="#111">20</text>
<line x1="52.00" y1="453.20" x2="55.00" y2="453.20" stroke="#1a1a1a" stroke-width="1.1" />
<text x="49.0" y="456.8" font-size="12.3" text-anchor="end" fill="#111" font-weight="bold"  stroke="#111">30</text>
<line x1="52.00" y1="412.80" x2="55.00" y2="412.80" stroke="#1a1a1a" stroke-width="1.1" />
<text x="49.0" y="416.40000000000003" font-size="12.3" text-anchor="end" fill="#111" font-weight="bold"  stroke="#111">40</text>
<line x1="53.00" y1="554.20" x2="55.00" y2="554.20" stroke="#1a1a1a" stroke-width="1.0" />
<line x1="53.00" y1="513.80" x2="55.00" y2="513.80" stroke="#1a1a1a" stroke-width="1.0" />
<line x1="53.00" y1="473.40" x2="55.00" y2="473.40" stroke="#1a1a1a" stroke-width="1.0" />
<line x1="53.00" y1="433.00" x2="55.00" y2="433.00" stroke="#1a1a1a" stroke-width="1.0" />
<line x1="55.00" y1="574.40" x2="55.00" y2="577.40" stroke="#1a1a1a" stroke-width="1.1" />
<text x="55.0" y="589.8" font-size="12.3" text-anchor="middle" fill="#111" font-weight="bold"  stroke="#111">0</text>
<line x1="112.60" y1="574.40" x2="112.60" y2="577.40" stroke="#1a1a1a" stroke-width="1.1" />
<text x="112.60000000000001" y="589.8" font-size="12.3" text-anchor="middle" fill="#111" font-weight="bold"  stroke="#111">400</text>
<line x1="170.20" y1="574.40" x2="170.20" y2="577.40" stroke="#1a1a1a" stroke-width="1.1" />
<text x="170.20000000000002" y="589.8" font-size="12.3" text-anchor="middle" fill="#111" font-weight="bold"  stroke="#111">800</text>
<line x1="227.80" y1="574.40" x2="227.80" y2="577.40" stroke="#1a1a1a" stroke-width="1.1" />
<text x="227.8" y="589.8" font-size="12.3" text-anchor="middle" fill="#111" font-weight="bold"  stroke="#111">1200</text>
<line x1="83.80" y1="574.40" x2="83.80" y2="576.40" stroke="#1a1a1a" stroke-width="1.0" />
<line x1="141.40" y1="574.40" x2="141.40" y2="576.40" stroke="#1a1a1a" stroke-width="1.0" />
<line x1="199.00" y1="574.40" x2="199.00" y2="576.40" stroke="#1a1a1a" stroke-width="1.0" />
<text x="155.8" y="605.3" font-size="14" text-anchor="middle" fill="#111" font-weight="bold"  stroke="#111">Strain (%)</text>
<text font-size="13.7" font-weight="bold" fill="#111" stroke="#111" text-anchor="middle" transform="translate(31,493.7) rotate(-90)">Stress (MPa)</text>
<text x="9.2" y="420" font-size="21" text-anchor="start" fill="#111" font-weight="bold"  stroke="#111">(d)</text>
<line x1="58.90" y1="421.20" x2="82.90" y2="421.20" stroke="#515151" stroke-width="1.4" />
<text x="86.0" y="424.8" font-size="10.75" text-anchor="start" fill="#111" font-weight="bold"  stroke="#111">PU<tspan font-size="7.1" dy="3.2" stroke-width="0.05">650</tspan><tspan dy="-3.2">-7</tspan></text>
<line x1="58.90" y1="436.95" x2="82.90" y2="436.95" stroke="#F14040" stroke-width="1.4" />
<text x="86.0" y="440.55" font-size="10.75" text-anchor="start" fill="#111" font-weight="bold"  stroke="#111">PU<tspan font-size="7.1" dy="3.2" stroke-width="0.05">650</tspan><tspan dy="-3.2">-7(6/9)</tspan></text>
<line x1="58.90" y1="452.70" x2="82.90" y2="452.70" stroke="#1A6FDF" stroke-width="1.4" />
<text x="86.0" y="456.3" font-size="10.75" text-anchor="start" fill="#111" font-weight="bold"  stroke="#111">PU<tspan font-size="7.1" dy="3.2" stroke-width="0.05">650</tspan><tspan dy="-3.2">-7(2/9)</tspan></text>
<line x1="58.90" y1="468.45" x2="82.90" y2="468.45" stroke="#37AD6B" stroke-width="1.4" />
<text x="86.0" y="472.05" font-size="10.75" text-anchor="start" fill="#111" font-weight="bold"  stroke="#111">PU<tspan font-size="7.1" dy="3.2" stroke-width="0.05">650</tspan><tspan dy="-3.2">-7(0/9)</tspan></text>
<defs><linearGradient id="gb" x1="0" y1="0" x2="0" y2="1"><stop offset="0" stop-color="#4A84E0"/><stop offset="1" stop-color="#B4D2FA"/></linearGradient><linearGradient id="go" x1="0" y1="0" x2="0" y2="1"><stop offset="0" stop-color="#F6A066"/><stop offset="1" stop-color="#FDD8BC"/></linearGradient></defs>
<rect x="303.6" y="537.2" width="17.70" height="41.20" fill="url(#gb)"/>
<rect x="321.3" y="499.9" width="17.60" height="78.50" fill="url(#go)"/>
<rect x="354.4" y="480.6" width="17.70" height="97.80" fill="url(#gb)"/>
<rect x="372.1" y="479.1" width="17.90" height="99.30" fill="url(#go)"/>
<rect x="405.1" y="444.2" width="17.80" height="134.20" fill="url(#gb)"/>
<rect x="422.9" y="440.4" width="17.70" height="138.00" fill="url(#go)"/>
<rect x="456.1" y="463.3" width="17.50" height="115.10" fill="url(#gb)"/>
<rect x="473.6" y="448.3" width="17.50" height="130.10" fill="url(#go)"/>
<line x1="312.60" y1="533.30" x2="312.60" y2="542.30" stroke="#222" stroke-width="1.1" />
<line x1="310.80" y1="533.30" x2="314.40" y2="533.30" stroke="#222" stroke-width="1.1" />
<line x1="310.80" y1="542.30" x2="314.40" y2="542.30" stroke="#222" stroke-width="1.1" />
<line x1="330.10" y1="496.10" x2="330.10" y2="508.50" stroke="#222" stroke-width="1.1" />
<line x1="328.30" y1="496.10" x2="331.90" y2="496.10" stroke="#222" stroke-width="1.1" />
<line x1="328.30" y1="508.50" x2="331.90" y2="508.50" stroke="#222" stroke-width="1.1" />
<line x1="363.30" y1="474.20" x2="363.30" y2="489.40" stroke="#222" stroke-width="1.1" />
<line x1="361.50" y1="474.20" x2="365.10" y2="474.20" stroke="#222" stroke-width="1.1" />
<line x1="361.50" y1="489.40" x2="365.10" y2="489.40" stroke="#222" stroke-width="1.1" />
<line x1="380.90" y1="474.20" x2="380.90" y2="487.30" stroke="#222" stroke-width="1.1" />
<line x1="379.10" y1="474.20" x2="382.70" y2="474.20" stroke="#222" stroke-width="1.1" />
<line x1="379.10" y1="487.30" x2="382.70" y2="487.30" stroke="#222" stroke-width="1.1" />
<line x1="413.90" y1="428.60" x2="413.90" y2="457.20" stroke="#222" stroke-width="1.1" />
<line x1="412.10" y1="428.60" x2="415.70" y2="428.60" stroke="#222" stroke-width="1.1" />
<line x1="412.10" y1="457.20" x2="415.70" y2="457.20" stroke="#222" stroke-width="1.1" />
<line x1="431.80" y1="433.20" x2="431.80" y2="443.70" stroke="#222" stroke-width="1.1" />
<line x1="430.00" y1="433.20" x2="433.60" y2="433.20" stroke="#222" stroke-width="1.1" />
<line x1="430.00" y1="443.70" x2="433.60" y2="443.70" stroke="#222" stroke-width="1.1" />
<line x1="464.90" y1="455.30" x2="464.90" y2="472.70" stroke="#222" stroke-width="1.1" />
<line x1="463.10" y1="455.30" x2="466.70" y2="455.30" stroke="#222" stroke-width="1.1" />
<line x1="463.10" y1="472.70" x2="466.70" y2="472.70" stroke="#222" stroke-width="1.1" />
<line x1="482.20" y1="445.40" x2="482.20" y2="452.10" stroke="#222" stroke-width="1.1" />
<line x1="480.40" y1="445.40" x2="484.00" y2="445.40" stroke="#222" stroke-width="1.1" />
<line x1="480.40" y1="452.10" x2="484.00" y2="452.10" stroke="#222" stroke-width="1.1" />
<line x1="296.30" y1="415.00" x2="498.40" y2="415.00" stroke="#1a1a1a" stroke-width="1.3" />
<line x1="296.30" y1="578.40" x2="498.40" y2="578.40" stroke="#1a1a1a" stroke-width="1.3" />
<line x1="296.30" y1="415.00" x2="296.30" y2="578.40" stroke="#2A72E0" stroke-width="1.5" />
<line x1="498.40" y1="415.00" x2="498.40" y2="578.40" stroke="#F5893A" stroke-width="1.5" />
<line x1="293.30" y1="578.40" x2="296.30" y2="578.40" stroke="#2A72E0" stroke-width="1.1" />
<text x="290.3" y="582.0" font-size="12.3" text-anchor="end" fill="#2A72E0" font-weight="bold"  stroke="#2A72E0">0</text>
<line x1="293.30" y1="539.97" x2="296.30" y2="539.97" stroke="#2A72E0" stroke-width="1.1" />
<text x="290.3" y="543.57" font-size="12.3" text-anchor="end" fill="#2A72E0" font-weight="bold"  stroke="#2A72E0">10</text>
<line x1="293.30" y1="501.54" x2="296.30" y2="501.54" stroke="#2A72E0" stroke-width="1.1" />
<text x="290.3" y="505.14" font-size="12.3" text-anchor="end" fill="#2A72E0" font-weight="bold"  stroke="#2A72E0">20</text>
<line x1="293.30" y1="463.11" x2="296.30" y2="463.11" stroke="#2A72E0" stroke-width="1.1" />
<text x="290.3" y="466.71000000000004" font-size="12.3" text-anchor="end" fill="#2A72E0" font-weight="bold"  stroke="#2A72E0">30</text>
<line x1="293.30" y1="424.68" x2="296.30" y2="424.68" stroke="#2A72E0" stroke-width="1.1" />
<text x="290.3" y="428.28" font-size="12.3" text-anchor="end" fill="#2A72E0" font-weight="bold"  stroke="#2A72E0">40</text>
<line x1="294.30" y1="559.18" x2="296.30" y2="559.18" stroke="#2A72E0" stroke-width="1.0" />
<line x1="294.30" y1="520.75" x2="296.30" y2="520.75" stroke="#2A72E0" stroke-width="1.0" />
<line x1="294.30" y1="482.32" x2="296.30" y2="482.32" stroke="#2A72E0" stroke-width="1.0" />
<line x1="294.30" y1="443.89" x2="296.30" y2="443.89" stroke="#2A72E0" stroke-width="1.0" />
<line x1="498.40" y1="578.40" x2="501.40" y2="578.40" stroke="#F5893A" stroke-width="1.1" />
<text x="504.2" y="582.8" font-size="12.5" text-anchor="start" fill="#F5893A" font-weight="normal" stroke="#F5893A" stroke-width="0.35">0</text>
<line x1="498.40" y1="534.80" x2="501.40" y2="534.80" stroke="#F5893A" stroke-width="1.1" />
<text x="504.2" y="539.1999999999999" font-size="12.5" text-anchor="start" fill="#F5893A" font-weight="normal" stroke="#F5893A" stroke-width="0.35">400</text>
<line x1="498.40" y1="491.20" x2="501.40" y2="491.20" stroke="#F5893A" stroke-width="1.1" />
<text x="504.2" y="495.59999999999997" font-size="12.5" text-anchor="start" fill="#F5893A" font-weight="normal" stroke="#F5893A" stroke-width="0.35">800</text>
<line x1="498.40" y1="447.60" x2="501.40" y2="447.60" stroke="#F5893A" stroke-width="1.1" />
<text x="504.2" y="451.99999999999994" font-size="12.5" text-anchor="start" fill="#F5893A" font-weight="normal" stroke="#F5893A" stroke-width="0.35">1200</text>
<line x1="498.40" y1="556.60" x2="500.40" y2="556.60" stroke="#F5893A" stroke-width="1.0" />
<line x1="498.40" y1="513.00" x2="500.40" y2="513.00" stroke="#F5893A" stroke-width="1.0" />
<line x1="498.40" y1="469.40" x2="500.40" y2="469.40" stroke="#F5893A" stroke-width="1.0" />
<line x1="498.40" y1="425.80" x2="500.40" y2="425.80" stroke="#F5893A" stroke-width="1.0" />
<line x1="321.30" y1="578.40" x2="321.30" y2="581.40" stroke="#1a1a1a" stroke-width="1.1" />
<line x1="372.10" y1="578.40" x2="372.10" y2="581.40" stroke="#1a1a1a" stroke-width="1.1" />
<line x1="422.90" y1="578.40" x2="422.90" y2="581.40" stroke="#1a1a1a" stroke-width="1.1" />
<line x1="473.60" y1="578.40" x2="473.60" y2="581.40" stroke="#1a1a1a" stroke-width="1.1" />
<text font-size="10.5" font-weight="bold" fill="#111" stroke="#111" text-anchor="middle" transform="translate(323.5,595.0) rotate(-12)">PU<tspan font-size="6.8" dy="3" stroke-width="0.05">650</tspan><tspan dy="-3">-7</tspan></text>
<text font-size="10.5" font-weight="bold" fill="#111" stroke="#111" text-anchor="middle" transform="translate(374.3,595.0) rotate(-12)">PU<tspan font-size="6.8" dy="3" stroke-width="0.05">650</tspan><tspan dy="-3">-7(6/9)</tspan></text>
<text font-size="10.5" font-weight="bold" fill="#111" stroke="#111" text-anchor="middle" transform="translate(425.09999999999997,595.0) rotate(-12)">PU<tspan font-size="6.8" dy="3" stroke-width="0.05">650</tspan><tspan dy="-3">-7(2/9)</tspan></text>
<text font-size="10.5" font-weight="bold" fill="#111" stroke="#111" text-anchor="middle" transform="translate(475.8,595.0) rotate(-12)">PU<tspan font-size="6.8" dy="3" stroke-width="0.05">650</tspan><tspan dy="-3">-7(0/9)</tspan></text>
<text font-size="13.7" font-weight="bold" fill="#2A72E0" stroke="#2A72E0" text-anchor="middle" transform="translate(274.2,496.9) rotate(-90)">Tensile Strength (MPa)</text>
<text font-size="13.85" font-weight="bold" fill="#F5893A" stroke="#F5893A" text-anchor="middle" transform="translate(541.5,496.1) rotate(-90)">Elongation at break (%)</text>
<text x="262.4" y="420" font-size="21" text-anchor="start" fill="#111" font-weight="bold"  stroke="#111">(e)</text>
</svg></body></html>
